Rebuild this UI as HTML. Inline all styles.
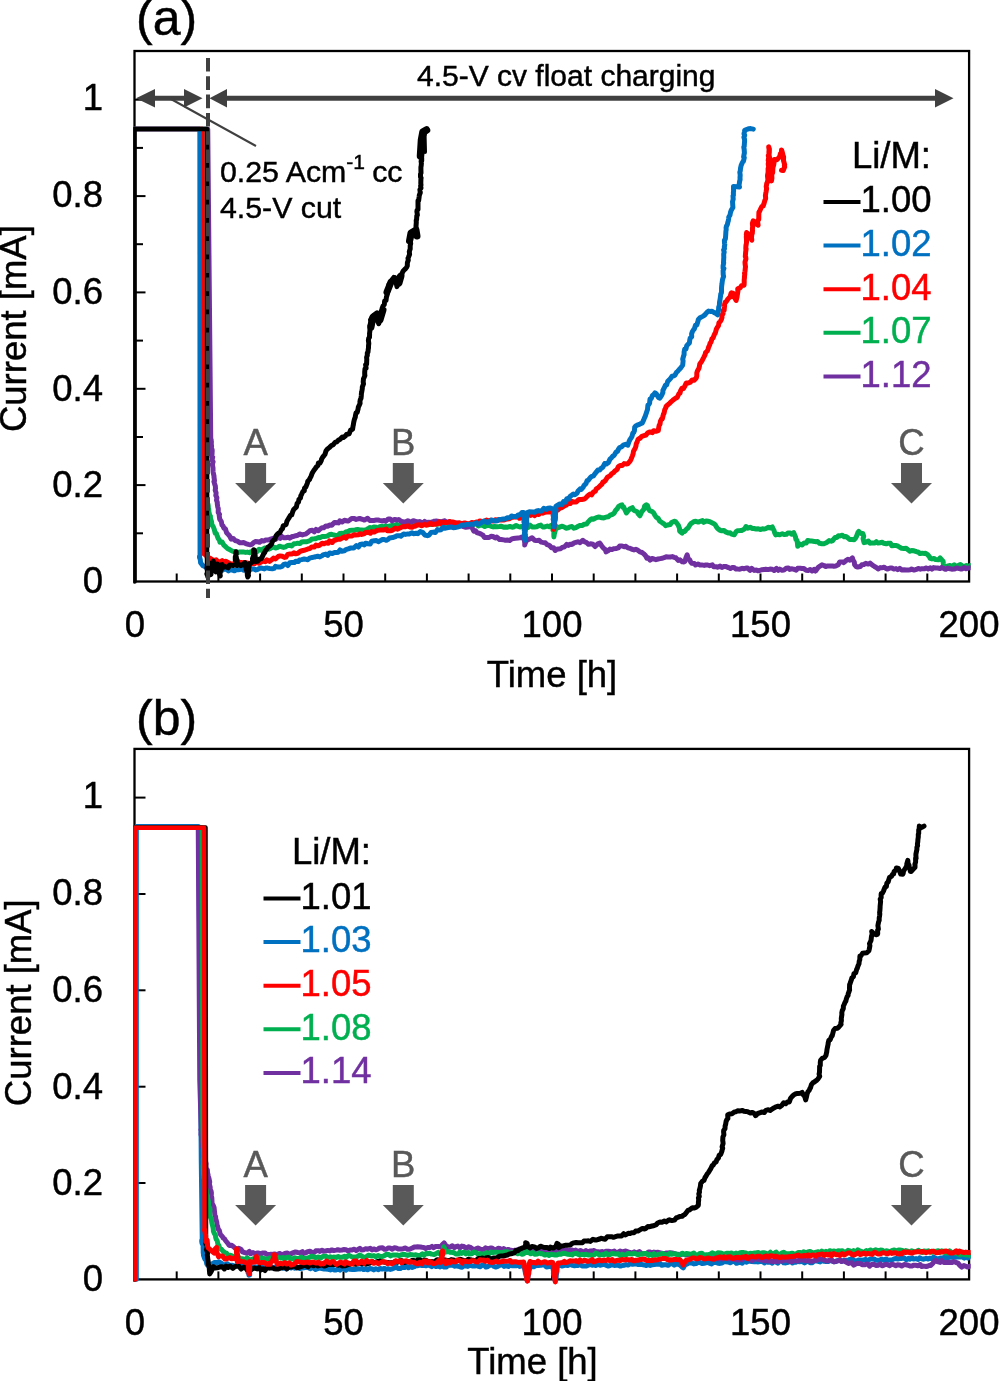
<!DOCTYPE html>
<html><head><meta charset="utf-8"><style>html,body{margin:0;padding:0;background:#fff;overflow:hidden}svg{display:block;will-change:transform}</style></head>
<body><svg width="1000" height="1381" viewBox="0 0 1000 1381">
<defs><clipPath id="clip"><rect x="133.2" y="0" width="837.5" height="1381"/></clipPath></defs>
<rect width="1000" height="1381" fill="#fff"/>
<line x1="176.7" y1="581.5" x2="176.7" y2="573.5" stroke="#000" stroke-width="2"/>
<line x1="218.4" y1="581.5" x2="218.4" y2="573.5" stroke="#000" stroke-width="2"/>
<line x1="260.1" y1="581.5" x2="260.1" y2="573.5" stroke="#000" stroke-width="2"/>
<line x1="301.8" y1="581.5" x2="301.8" y2="573.5" stroke="#000" stroke-width="2"/>
<line x1="343.5" y1="581.5" x2="343.5" y2="573.5" stroke="#000" stroke-width="2"/>
<line x1="385.2" y1="581.5" x2="385.2" y2="573.5" stroke="#000" stroke-width="2"/>
<line x1="426.9" y1="581.5" x2="426.9" y2="573.5" stroke="#000" stroke-width="2"/>
<line x1="468.6" y1="581.5" x2="468.6" y2="573.5" stroke="#000" stroke-width="2"/>
<line x1="510.3" y1="581.5" x2="510.3" y2="573.5" stroke="#000" stroke-width="2"/>
<line x1="552.0" y1="581.5" x2="552.0" y2="573.5" stroke="#000" stroke-width="2"/>
<line x1="593.7" y1="581.5" x2="593.7" y2="573.5" stroke="#000" stroke-width="2"/>
<line x1="635.4" y1="581.5" x2="635.4" y2="573.5" stroke="#000" stroke-width="2"/>
<line x1="677.1" y1="581.5" x2="677.1" y2="573.5" stroke="#000" stroke-width="2"/>
<line x1="718.8" y1="581.5" x2="718.8" y2="573.5" stroke="#000" stroke-width="2"/>
<line x1="760.5" y1="581.5" x2="760.5" y2="573.5" stroke="#000" stroke-width="2"/>
<line x1="802.2" y1="581.5" x2="802.2" y2="573.5" stroke="#000" stroke-width="2"/>
<line x1="843.9" y1="581.5" x2="843.9" y2="573.5" stroke="#000" stroke-width="2"/>
<line x1="885.6" y1="581.5" x2="885.6" y2="573.5" stroke="#000" stroke-width="2"/>
<line x1="927.3" y1="581.5" x2="927.3" y2="573.5" stroke="#000" stroke-width="2"/>
<line x1="135.0" y1="533.3" x2="143.0" y2="533.3" stroke="#000" stroke-width="2"/>
<line x1="135.0" y1="485.1" x2="145.5" y2="485.1" stroke="#000" stroke-width="2"/>
<line x1="135.0" y1="437.0" x2="143.0" y2="437.0" stroke="#000" stroke-width="2"/>
<line x1="135.0" y1="388.8" x2="145.5" y2="388.8" stroke="#000" stroke-width="2"/>
<line x1="135.0" y1="340.6" x2="143.0" y2="340.6" stroke="#000" stroke-width="2"/>
<line x1="135.0" y1="292.4" x2="145.5" y2="292.4" stroke="#000" stroke-width="2"/>
<line x1="135.0" y1="244.2" x2="143.0" y2="244.2" stroke="#000" stroke-width="2"/>
<line x1="135.0" y1="196.1" x2="145.5" y2="196.1" stroke="#000" stroke-width="2"/>
<line x1="135.0" y1="147.9" x2="143.0" y2="147.9" stroke="#000" stroke-width="2"/>
<line x1="135.0" y1="99.7" x2="145.5" y2="99.7" stroke="#000" stroke-width="2"/>
<rect x="134.5" y="51.0" width="834.6" height="530.5" fill="none" stroke="#000" stroke-width="2.3"/>
<text x="103" y="593.0" text-anchor="end" font-size="36.5" font-family="Liberation Sans, sans-serif" stroke="#000" stroke-width="0.45">0</text>
<text x="103" y="496.6" text-anchor="end" font-size="36.5" font-family="Liberation Sans, sans-serif" stroke="#000" stroke-width="0.45">0.2</text>
<text x="103" y="400.8" text-anchor="end" font-size="36.5" font-family="Liberation Sans, sans-serif" stroke="#000" stroke-width="0.45">0.4</text>
<text x="103" y="304.4" text-anchor="end" font-size="36.5" font-family="Liberation Sans, sans-serif" stroke="#000" stroke-width="0.45">0.6</text>
<text x="103" y="207.1" text-anchor="end" font-size="36.5" font-family="Liberation Sans, sans-serif" stroke="#000" stroke-width="0.45">0.8</text>
<text x="103" y="110.2" text-anchor="end" font-size="36.5" font-family="Liberation Sans, sans-serif" stroke="#000" stroke-width="0.45">1</text>
<text x="135.0" y="636.5" text-anchor="middle" font-size="36.5" font-family="Liberation Sans, sans-serif" stroke="#000" stroke-width="0.45">0</text>
<text x="343.5" y="636.5" text-anchor="middle" font-size="36.5" font-family="Liberation Sans, sans-serif" stroke="#000" stroke-width="0.45">50</text>
<text x="552.0" y="636.5" text-anchor="middle" font-size="36.5" font-family="Liberation Sans, sans-serif" stroke="#000" stroke-width="0.45">100</text>
<text x="760.5" y="636.5" text-anchor="middle" font-size="36.5" font-family="Liberation Sans, sans-serif" stroke="#000" stroke-width="0.45">150</text>
<text x="969.0" y="636.5" text-anchor="middle" font-size="36.5" font-family="Liberation Sans, sans-serif" stroke="#000" stroke-width="0.45">200</text>
<text x="552" y="687.4" text-anchor="middle" font-size="36.5" font-family="Liberation Sans, sans-serif" stroke="#000" stroke-width="0.45">Time [h]</text>
<text transform="translate(26,328.6) rotate(-90)" text-anchor="middle" font-size="36.5" font-family="Liberation Sans, sans-serif" stroke="#000" stroke-width="0.45">Current [mA]</text>
<text x="136" y="34.5" font-size="50" font-family="Liberation Sans, sans-serif" stroke="#000" stroke-width="0.45">(a)</text>
<line x1="150" y1="98.3" x2="190" y2="98.3" stroke="#404040" stroke-width="5"/>
<polygon points="136,98.3 155,89 155,107.6" fill="#404040"/>
<polygon points="202.5,98.3 184,89 184,107.6" fill="#404040"/>
<line x1="220" y1="98.3" x2="940" y2="98.3" stroke="#404040" stroke-width="5"/>
<polygon points="209.5,98.3 227,89 227,107.6" fill="#404040"/>
<polygon points="953.5,98.3 935,89 935,107.6" fill="#404040"/>
<line x1="170" y1="98.5" x2="256" y2="146" stroke="#404040" stroke-width="2"/>
<text x="417" y="85.7" font-size="30" font-family="Liberation Sans, sans-serif" stroke="#000" stroke-width="0.45">4.5-V cv float charging</text>
<text x="220" y="181.8" font-size="30.3" font-family="Liberation Sans, sans-serif" stroke="#000" stroke-width="0.45">0.25 Acm<tspan font-size="21" dy="-12.5">-1</tspan><tspan dy="12.5" dx="-1.2"> cc</tspan></text>
<text x="220" y="218" font-size="30.3" font-family="Liberation Sans, sans-serif" stroke="#000" stroke-width="0.45">4.5-V cut</text>
<polygon points="245.1,462.90000000000003 266.1,462.90000000000003 266.1,483.1 276.1,483.1 255.6,503.6 235.1,483.1 245.1,483.1" fill="#595959"/>
<text x="255.6" y="454.8" text-anchor="middle" font-size="36.5" fill="#595959" stroke="#595959" stroke-width="0.45" font-family="Liberation Sans, sans-serif">A</text>
<polygon points="392.8,462.90000000000003 413.8,462.90000000000003 413.8,483.1 423.8,483.1 403.3,503.6 382.8,483.1 392.8,483.1" fill="#595959"/>
<text x="403.3" y="454.8" text-anchor="middle" font-size="36.5" fill="#595959" stroke="#595959" stroke-width="0.45" font-family="Liberation Sans, sans-serif">B</text>
<polygon points="901.0,462.90000000000003 922.0,462.90000000000003 922.0,483.1 932.0,483.1 911.5,503.6 891.0,483.1 901.0,483.1" fill="#595959"/>
<text x="911.5" y="454.8" text-anchor="middle" font-size="36.5" fill="#595959" stroke="#595959" stroke-width="0.45" font-family="Liberation Sans, sans-serif">C</text>
<polyline points="134.6,129.0 207.0,129.0 207.0,500.0" fill="none" stroke="#00B050" stroke-width="4.5" stroke-linejoin="round" stroke-linecap="round" clip-path="url(#clip)"/>
<polyline points="207.0,500.0 207.4,501.1 206.9,501.0 208.0,504.6 208.2,505.5 208.4,508.3 208.7,509.2 208.9,511.7 209.7,515.2 210.4,516.1 210.4,517.4 210.6,518.9 211.5,521.6 211.9,524.9 212.8,526.1 213.3,526.9 214.2,529.1 215.2,533.2 216.2,533.2 217.4,536.5 218.2,538.5 219.3,539.9 219.9,542.2 222.1,541.9 223.6,544.8 225.0,546.1 227.5,548.5 230.0,549.8 232.4,551.2 235.4,551.4 237.1,552.8 239.2,552.1 240.7,552.0 243.2,551.9 245.4,552.4 247.4,552.1 249.4,552.7 251.0,551.8 253.1,551.6 254.8,550.3 257.0,551.6 259.1,549.2 261.3,550.3 263.4,548.7 265.2,547.9 267.3,548.1 269.0,549.2 271.1,548.0 273.9,547.0 275.4,548.1 277.8,547.4 279.6,546.2 281.7,546.8 283.6,547.4 285.5,546.8 287.5,545.5 290.3,545.2 291.7,545.9 293.9,543.7 296.5,543.4 297.6,543.2 300.1,543.6 301.6,542.0 303.5,541.7 306.3,541.8 308.4,541.2 310.3,540.5 312.0,538.9 314.2,538.8 315.6,538.7 318.4,537.5 320.1,537.7 322.0,536.6 324.4,536.4 326.1,536.3 327.5,536.1 329.7,534.4 331.6,534.3 333.6,535.0 336.0,535.5 338.4,535.1 339.7,533.4 341.8,533.3 344.1,533.4 346.2,531.7 347.9,532.0 349.5,530.4 351.9,530.3 354.2,530.3 355.6,529.8 357.7,529.6 360.0,529.9 361.8,530.0 363.7,530.4 366.4,529.6 367.9,528.8 370.1,527.4 371.9,528.3 373.7,526.9 376.3,527.3 378.0,528.3 380.1,526.5 382.5,526.5 383.5,527.0 385.6,525.9 388.3,526.6 389.5,525.9 392.4,525.5 394.7,525.2 396.7,524.4 399.0,525.8 400.8,525.3 403.0,524.8 405.3,524.4 407.7,524.1 409.2,523.4 411.3,525.0 413.9,525.2 416.0,522.8 418.1,524.5 420.2,523.7 421.9,523.6 424.5,523.2 426.3,523.7 428.8,524.5 430.8,524.6 432.3,523.1 434.6,523.2 436.6,524.2 439.2,524.0 441.1,522.8 442.8,524.9 444.7,523.6 446.7,522.8 449.5,525.0 451.4,523.0 453.1,523.4 455.6,524.5 457.4,524.2 459.2,524.3 462.1,524.9 463.4,524.4 466.0,523.8 468.3,524.3 470.2,524.3 472.6,525.3 474.2,523.9 476.2,523.8 478.4,526.0 480.1,525.3 482.5,525.1 484.8,526.6 486.9,525.6 489.2,525.4 491.1,526.3 493.2,526.9 494.7,526.5 497.0,526.7 499.6,526.6 500.8,526.2 503.5,527.2 505.6,527.0 507.0,527.3 509.8,526.5 512.1,527.2 513.4,527.0 516.1,525.5 518.2,526.5 519.7,527.0 521.7,526.5 524.1,525.7 526.3,526.2 528.1,527.4 530.0,525.1 532.5,527.1 534.7,526.9 536.7,526.7 538.6,525.7 540.8,525.1 542.5,526.9 544.7,526.9 547.3,526.0 549.2,526.8 551.3,525.2 552.7,525.7 553.2,527.5 552.9,530.1 554.0,531.7 553.8,533.7 553.9,536.9 554.3,534.1 555.0,531.6 555.9,528.2 556.3,526.5 558.1,527.8 560.1,526.9 562.3,526.2 564.1,527.0 566.0,528.2 568.3,527.7 569.8,526.9 572.0,526.6 574.0,528.2 575.9,527.6 578.2,526.3 580.2,525.4 582.5,525.4 584.3,524.2 586.6,524.1 588.1,521.9 590.4,519.6 591.6,518.8 593.7,519.2 595.9,517.9 598.3,517.0 600.3,517.3 601.9,517.8 603.8,517.9 606.4,517.0 608.2,516.8 610.2,515.1 612.4,514.3 614.2,513.1 615.4,510.7 617.4,508.5 618.7,506.4 620.8,505.2 622.0,504.9 622.7,507.1 623.6,506.9 624.9,509.7 626.4,512.9 628.3,510.5 630.0,508.7 632.3,507.7 633.4,509.9 634.9,510.8 637.2,511.8 638.1,513.7 639.8,515.8 640.8,513.8 641.8,511.7 643.1,510.1 643.9,509.3 644.6,506.0 646.3,504.8 647.6,505.8 648.7,509.2 649.8,510.6 651.7,511.3 653.7,512.9 654.8,515.1 656.2,517.2 658.1,518.2 659.5,520.9 661.5,522.3 662.5,523.0 664.0,523.9 665.6,525.7 667.6,525.0 670.2,524.5 671.6,522.5 674.3,521.3 675.6,521.6 676.7,523.2 678.2,525.0 679.5,528.4 679.6,531.0 680.8,532.0 682.1,533.1 683.5,531.2 684.7,531.5 686.8,528.8 688.2,527.9 689.3,525.8 690.8,523.7 692.4,522.7 694.0,521.5 695.9,521.3 698.3,522.1 700.2,521.3 702.4,520.6 703.6,522.3 706.1,520.9 707.9,521.3 709.9,521.7 711.9,522.7 713.9,523.7 715.2,524.7 717.1,528.0 718.1,528.9 720.2,530.4 721.5,530.7 723.7,530.4 726.1,532.1 728.1,532.9 730.2,532.8 731.6,534.1 734.3,534.8 736.1,531.7 737.7,530.7 740.1,530.6 741.7,530.4 744.5,529.1 746.0,526.5 747.7,528.2 750.2,527.3 752.4,528.5 753.9,528.5 756.2,529.0 758.2,528.7 760.2,529.5 762.4,528.8 763.8,529.1 765.9,528.6 768.4,527.3 770.3,528.0 772.3,526.9 773.0,528.6 774.0,530.4 774.7,532.9 775.7,534.9 778.1,534.3 779.7,534.8 782.3,533.7 784.1,534.5 786.4,534.3 787.8,533.0 790.3,533.0 791.5,534.1 793.7,532.6 794.5,534.6 795.5,537.0 795.9,539.3 797.0,540.5 797.4,542.9 797.7,546.3 799.9,544.0 802.1,545.0 804.1,543.0 806.3,543.0 807.7,540.5 810.4,541.0 811.7,541.1 814.4,541.4 816.2,541.8 817.7,541.6 819.6,543.3 821.7,543.7 823.9,543.8 826.3,542.8 827.6,541.9 829.1,540.6 831.2,541.2 832.6,540.6 835.0,537.5 836.8,537.5 838.4,535.8 840.2,535.9 842.3,535.2 844.2,536.8 845.7,536.4 848.0,537.9 849.7,539.6 852.0,539.6 854.1,539.7 855.6,538.1 856.6,536.1 857.9,532.5 858.8,531.4 861.0,533.6 862.9,533.6 863.7,536.3 863.1,538.7 863.6,541.1 864.1,542.7 866.4,542.1 868.4,541.1 869.8,543.2 871.5,542.9 874.5,543.1 876.3,541.7 878.0,543.1 879.9,542.8 882.3,542.2 883.6,543.2 886.4,543.8 888.2,543.2 890.4,543.3 891.8,545.8 894.4,545.6 896.4,545.6 898.1,546.2 899.7,547.3 901.5,548.2 904.0,548.4 906.1,548.3 908.0,549.8 909.9,551.2 911.6,550.5 914.0,550.8 916.5,551.7 918.0,551.9 919.9,553.5 922.3,553.2 923.7,553.4 925.6,553.2 927.5,554.5 929.5,556.8 930.1,558.4 931.9,558.9 933.9,558.4 935.7,559.6 938.4,559.8 940.1,557.9 941.8,559.8 943.1,561.4 943.4,564.1 943.8,566.5 945.9,566.6 948.0,566.0 950.1,565.5 952.0,566.3 954.2,564.8 956.0,566.1 958.2,565.6 960.4,564.5 962.1,565.8 964.0,566.7 966.4,565.5 968.1,566.5 970.2,565.7" fill="none" stroke="#00B050" stroke-width="5.0" stroke-linejoin="round" stroke-linecap="round" clip-path="url(#clip)"/>
<polyline points="134.6,129.0 208.0,129.0 211.0,440.0" fill="none" stroke="#7030A0" stroke-width="4.5" stroke-linejoin="round" stroke-linecap="round" clip-path="url(#clip)"/>
<polyline points="211.0,440.0 210.6,440.8 211.4,441.4 211.3,443.9 211.6,446.7 211.2,446.9 212.1,449.8 212.2,450.8 212.0,454.5 211.9,457.1 212.7,456.9 212.0,460.1 213.1,461.7 212.5,463.8 212.5,465.3 213.0,468.0 213.0,469.4 213.1,471.9 213.3,472.9 214.0,476.1 214.0,477.2 214.5,480.9 213.9,481.6 214.8,484.5 215.3,485.8 215.5,488.4 215.2,490.2 216.1,492.8 216.0,494.2 215.8,495.4 216.9,497.8 216.5,500.1 217.3,502.4 217.3,503.9 217.7,506.7 218.0,507.7 218.3,508.9 218.2,512.5 219.5,514.2 219.2,515.2 219.7,519.2 220.3,520.1 221.3,521.4 222.0,525.1 223.1,525.9 223.8,528.1 225.4,528.8 226.5,532.5 227.9,534.1 229.0,535.3 230.1,536.8 231.2,539.1 233.4,538.6 235.0,540.5 237.4,541.1 240.0,542.8 242.1,542.7 243.5,542.5 245.7,543.6 248.3,544.4 250.3,544.8 251.8,544.4 254.2,542.2 255.5,541.6 258.2,541.8 259.6,542.3 261.9,540.5 263.7,541.1 265.7,540.0 268.2,539.9 269.8,539.4 271.5,538.8 273.9,538.0 275.6,539.3 278.0,537.2 280.1,538.3 281.5,536.2 283.7,537.8 285.7,537.7 288.2,537.2 289.7,538.1 292.3,536.5 293.7,536.4 295.9,535.7 297.8,535.3 299.6,534.0 302.4,534.9 303.8,534.4 305.8,534.1 308.2,532.3 309.8,530.8 312.4,530.3 314.3,531.9 316.1,529.4 318.4,530.7 320.2,529.0 321.9,527.8 323.7,527.8 325.9,525.9 327.6,526.2 329.8,525.0 331.8,525.2 334.4,522.4 335.7,522.5 338.5,522.9 339.8,520.8 342.2,521.9 344.4,520.3 346.4,520.7 348.0,521.1 349.7,520.0 351.6,518.6 354.4,518.6 356.2,519.4 358.3,518.8 359.8,518.5 362.4,519.3 364.4,520.1 365.6,519.4 367.6,518.3 369.6,520.4 372.3,520.6 373.8,520.4 376.3,520.1 378.1,520.0 379.6,520.4 382.4,521.0 384.4,520.5 385.8,521.1 388.3,519.0 390.2,519.0 392.1,520.9 394.6,519.4 397.6,520.0 398.8,519.6 401.0,521.2 403.0,521.8 405.3,522.2 407.9,520.8 409.3,521.4 411.3,522.0 413.3,520.7 416.3,521.6 418.0,522.2 419.8,521.5 422.5,523.5 424.6,521.4 426.0,522.5 428.8,522.2 430.6,522.4 432.3,522.0 434.4,521.2 436.3,521.1 439.2,521.4 441.0,521.8 443.3,521.1 444.8,520.8 446.9,522.6 449.5,521.8 451.1,522.9 453.4,523.6 455.2,522.7 457.3,523.3 459.6,523.9 461.3,525.7 463.5,526.6 465.8,527.3 467.6,527.0 470.3,526.5 472.2,528.0 473.8,531.2 475.7,530.8 476.8,532.5 479.3,533.3 481.1,534.1 482.9,535.1 484.4,537.4 487.0,537.6 489.1,537.5 491.0,536.3 492.9,536.5 495.2,537.9 496.8,537.1 499.6,539.5 501.3,539.5 503.7,539.9 505.3,540.2 507.3,540.1 509.7,540.4 511.7,538.9 513.6,538.5 515.5,538.2 518.2,537.9 519.9,537.8 521.7,537.1 524.0,539.0 524.5,540.9 524.8,543.6 524.7,545.0 525.6,542.3 526.2,541.1 527.4,540.0 529.5,539.2 532.1,537.7 534.6,540.3 536.3,540.6 539.1,540.2 541.0,542.1 542.8,542.4 545.2,542.7 547.0,544.7 548.8,545.2 549.7,545.7 551.4,547.7 553.6,547.7 555.2,550.5 556.7,549.3 558.4,549.0 560.2,548.8 562.8,547.2 564.2,547.1 566.7,544.4 568.4,545.4 570.2,544.2 572.0,544.4 574.6,542.6 576.5,542.3 578.0,541.7 580.1,542.6 582.9,540.3 584.7,541.9 586.3,542.4 588.5,544.3 590.4,543.8 592.9,544.3 595.1,546.5 597.8,543.9 599.8,543.1 601.0,544.8 602.2,546.6 603.9,548.5 605.3,549.5 606.0,551.9 608.3,550.5 609.9,549.1 611.6,549.6 613.6,548.7 616.0,548.5 618.3,547.9 619.7,546.0 622.1,546.0 624.0,546.7 626.0,546.3 627.9,547.9 629.8,548.3 632.3,549.4 634.0,549.9 635.9,549.3 637.5,550.0 640.1,551.9 642.0,552.5 643.8,553.9 645.3,555.3 646.9,558.2 648.1,557.7 650.1,560.1 651.9,558.4 653.9,559.0 655.9,559.7 658.1,559.0 660.4,558.6 662.0,558.3 664.1,557.7 666.1,556.8 668.1,557.0 670.4,557.0 672.3,556.6 674.3,557.4 675.9,557.8 678.2,560.4 680.0,559.8 682.3,561.8 684.0,561.9 685.0,561.3 685.9,558.0 687.2,554.8 688.3,559.1 689.7,559.8 690.9,562.3 691.7,563.3 694.4,563.6 695.6,565.0 698.0,564.0 700.0,565.0 701.7,564.9 704.2,565.4 705.8,565.0 707.7,565.0 709.7,565.7 712.4,564.9 713.7,566.7 716.2,566.7 717.5,567.2 720.1,566.1 721.9,567.4 724.3,566.4 726.1,566.6 728.5,567.6 730.4,568.5 732.1,567.6 734.0,567.4 735.7,568.9 737.9,569.1 739.8,569.2 742.2,568.3 743.6,568.7 746.0,568.1 747.7,568.1 750.1,570.3 751.7,568.3 754.2,570.4 756.4,570.0 757.8,570.7 759.6,570.5 761.6,569.7 764.0,569.6 765.7,569.2 768.3,569.6 770.1,569.0 772.2,569.2 774.1,570.5 776.5,568.4 778.3,570.3 779.8,569.1 782.1,570.3 783.9,570.1 786.2,568.3 788.4,567.9 789.7,569.4 791.6,568.8 793.6,569.1 796.3,570.2 797.6,568.3 800.3,568.3 801.8,568.5 803.6,568.4 806.1,570.2 808.2,570.5 810.2,569.5 812.1,571.0 814.1,569.3 815.6,571.0 818.1,567.6 820.1,566.1 822.0,564.8 823.9,565.5 825.7,566.5 827.9,565.9 830.2,566.0 832.2,565.9 833.8,566.3 835.7,566.0 838.3,564.8 839.6,562.0 842.3,561.9 843.9,562.6 845.6,560.9 847.9,559.3 849.9,560.1 852.4,557.9 853.0,560.0 854.3,562.0 854.6,564.7 856.2,566.6 857.6,567.0 860.3,566.5 861.8,564.8 863.8,564.5 865.8,563.3 868.3,564.1 870.1,563.1 872.1,564.9 874.5,566.5 876.3,567.5 878.0,569.0 880.3,567.6 881.7,567.8 884.0,567.2 885.9,568.4 887.6,569.1 890.1,567.9 891.8,568.1 893.8,569.1 896.0,568.6 897.7,569.6 899.8,568.3 901.6,569.9 904.0,569.8 906.4,570.0 908.3,570.0 910.4,569.7 911.6,569.0 914.1,570.1 916.3,569.4 918.2,568.5 920.4,569.2 921.9,568.7 924.5,568.8 925.7,567.9 928.2,568.9 930.4,567.9 931.9,569.2 933.6,567.6 936.0,568.0 937.6,568.0 940.1,568.6 941.6,567.4 944.3,568.8 945.7,569.3 947.5,568.1 950.3,568.8 951.8,569.2 954.1,569.1 956.4,568.1 958.2,568.3 960.4,568.9 962.2,568.9 964.5,567.5 965.7,568.7 968.3,568.1 970.0,567.8" fill="none" stroke="#7030A0" stroke-width="5.0" stroke-linejoin="round" stroke-linecap="round" clip-path="url(#clip)"/>
<polyline points="134.6,129.0 202.5,129.0 202.8,552.0" fill="none" stroke="#FF0000" stroke-width="4.5" stroke-linejoin="round" stroke-linecap="round" clip-path="url(#clip)"/>
<polyline points="202.8,552.0 202.5,552.1 204.3,554.2 206.1,555.0 207.5,558.1 209.8,558.0 212.5,559.9 214.3,560.3 216.1,559.8 218.1,561.9 220.0,561.9 222.2,560.6 224.2,562.2 225.8,561.2 228.4,562.6 230.2,563.9 232.2,564.0 233.9,563.7 235.9,564.0 238.4,562.0 239.7,562.3 242.4,562.8 244.1,562.5 246.0,562.7 247.9,563.2 250.1,564.0 252.3,563.8 254.6,563.7 256.6,561.5 258.9,563.3 261.1,562.1 263.1,561.0 265.3,561.7 266.9,559.8 269.6,561.4 271.0,560.3 273.5,558.1 275.5,558.9 278.2,556.5 280.1,555.9 282.2,556.2 284.4,557.4 286.0,557.0 287.8,554.4 290.1,553.9 291.7,554.1 294.1,552.8 295.6,553.8 297.8,553.3 300.4,551.2 302.0,550.8 304.1,550.3 306.1,549.7 308.4,548.7 309.9,548.5 311.7,546.9 314.5,546.9 316.0,545.0 317.9,545.8 319.5,545.3 322.1,543.3 324.1,543.7 326.2,542.8 328.2,543.2 329.5,540.9 332.2,542.5 333.8,540.7 336.1,539.8 337.9,539.2 339.9,539.2 341.8,538.2 344.3,536.9 346.1,538.1 347.8,536.3 350.3,535.9 351.7,535.9 354.2,534.7 355.8,534.9 358.3,534.8 360.3,533.7 361.8,534.5 364.4,533.6 365.7,532.4 368.0,532.2 370.3,533.3 371.7,531.6 374.3,532.0 376.3,530.9 377.6,530.4 380.3,530.0 381.9,530.1 383.9,529.9 386.4,529.1 387.5,530.8 390.4,530.7 392.4,530.2 395.4,528.1 397.3,529.2 399.3,528.2 401.0,527.4 403.1,526.5 405.5,526.7 407.8,525.8 410.0,527.0 412.1,527.2 414.1,526.1 415.4,526.2 417.6,524.8 420.2,525.1 422.0,525.8 424.3,524.2 426.0,525.2 428.3,524.8 430.3,523.2 432.5,524.5 434.3,524.2 437.1,524.1 439.1,521.9 441.0,523.8 442.5,522.2 444.8,522.6 447.0,522.5 449.4,521.5 450.8,521.9 453.0,521.9 455.9,523.9 457.1,523.1 459.4,522.8 461.5,523.7 463.8,523.1 465.5,523.1 467.6,523.8 470.2,523.5 471.6,522.5 473.9,523.0 476.3,522.0 478.3,522.0 479.9,520.9 482.1,521.6 484.2,521.4 486.4,520.1 488.6,521.0 490.3,520.2 492.8,521.1 495.4,519.7 497.5,520.5 498.9,519.5 500.9,520.1 503.5,520.1 505.7,519.4 507.7,518.9 509.2,518.8 511.2,517.5 514.0,517.0 515.4,517.0 518.3,516.9 519.5,518.3 521.7,517.9 524.3,517.5 526.7,516.4 528.6,514.7 530.7,515.4 532.7,514.1 534.8,515.6 536.2,513.7 538.8,514.5 540.6,512.6 542.7,513.2 545.2,512.2 546.9,512.1 548.9,512.1 550.6,512.1 553.5,511.8 553.3,513.2 553.4,516.6 553.5,518.0 553.4,520.3 553.9,521.2 553.3,524.6 554.2,526.0 553.8,528.5 553.7,529.4 553.9,528.2 554.2,525.4 554.8,525.1 554.6,522.5 554.9,520.8 555.3,517.4 555.1,514.9 555.6,513.7 555.5,511.7 555.8,510.7 557.7,510.1 560.0,508.1 562.0,507.6 564.3,505.9 566.0,505.2 568.3,503.3 570.2,503.6 572.0,501.4 573.7,502.0 576.2,502.1 578.3,499.9 579.7,499.4 581.7,499.5 584.3,499.0 585.8,497.9 587.8,495.8 590.2,494.0 591.6,494.8 593.4,492.1 595.3,491.2 596.3,488.8 598.3,487.6 599.7,486.2 601.9,484.2 602.9,481.9 604.1,481.7 605.3,480.6 607.5,477.2 609.0,476.3 610.3,475.6 611.5,473.9 613.5,472.7 614.8,471.1 617.1,469.4 618.4,466.6 620.0,465.6 622.2,465.6 624.1,463.6 626.1,463.9 627.7,463.7 630.1,461.1 631.1,459.1 631.3,458.5 632.3,456.1 633.1,453.9 633.5,451.2 633.9,450.5 635.3,448.1 636.0,445.7 636.3,443.7 637.6,440.9 638.0,439.4 640.3,438.0 641.8,436.4 644.0,435.7 645.9,435.1 647.6,433.0 649.6,431.9 652.3,432.7 653.7,430.7 655.9,431.3 658.3,430.6 658.8,427.2 659.2,425.3 660.0,424.2 660.4,421.4 661.6,418.9 662.3,418.9 663.1,415.7 663.4,414.2 664.1,413.1 664.8,409.5 665.7,408.0 666.1,406.5 667.2,405.3 669.5,403.3 671.0,401.9 672.4,400.7 673.9,399.3 676.1,397.9 677.3,397.4 678.9,393.6 680.0,393.0 680.6,390.7 682.0,388.2 683.5,388.5 684.6,386.6 686.2,383.1 688.3,383.0 690.4,382.1 692.2,380.0 694.3,380.2 696.3,377.8 696.8,376.0 696.8,372.9 697.3,371.3 698.0,370.0 699.0,368.1 699.4,366.4 699.8,363.9 701.2,362.0 701.7,361.5 703.2,358.4 703.9,357.1 705.1,354.6 705.5,352.8 707.3,350.9 708.0,349.3 708.6,347.2 709.6,345.2 710.1,343.1 711.1,342.0 711.9,338.9 713.1,337.8 714.2,334.9 714.8,333.7 715.3,333.1 716.4,329.0 717.5,327.1 718.5,325.6 718.9,322.8 720.3,321.4 721.3,319.8 722.0,317.3 721.9,315.2 723.0,313.9 723.2,310.6 724.1,310.6 724.5,306.2 724.6,304.3 725.3,302.1 726.2,301.8 728.0,298.9 729.1,297.8 730.0,297.1 731.1,293.2 731.5,292.8 733.3,293.4 733.8,297.1 734.8,297.9 736.1,300.5 737.0,297.2 737.1,296.4 737.5,293.9 737.9,291.3 737.7,288.9 740.1,287.9 741.6,285.6 744.1,285.2 744.2,282.6 744.2,279.9 744.5,277.5 744.4,277.2 744.8,273.6 744.5,273.3 745.0,271.3 745.3,268.2 745.5,266.8 745.1,263.9 745.0,261.9 745.9,259.1 745.7,257.1 745.3,256.4 745.6,252.9 745.6,252.3 746.1,248.8 745.8,249.0 745.9,246.0 746.2,244.5 746.5,242.5 746.5,239.1 746.3,236.8 747.0,234.8 746.3,234.8 746.6,232.6 747.7,233.5 748.9,236.3 750.5,237.7 751.8,240.2 751.5,237.5 751.8,234.3 752.3,233.4 752.5,230.5 752.4,229.0 752.7,226.1 752.5,225.0 752.4,223.2 753.2,220.8 754.7,222.8 755.8,223.7 758.1,225.2 757.7,222.4 757.8,220.5 758.7,219.6 758.8,218.1 758.8,215.8 758.9,212.4 759.5,211.4 760.8,208.5 761.8,206.5 763.2,205.9 763.8,204.2 764.9,200.3 765.6,198.8 765.6,197.6 765.4,195.8 765.8,193.0 766.1,191.7 766.6,188.6 766.2,186.6 766.7,184.0 766.7,183.6 767.4,182.1 767.9,179.8 767.5,176.1 767.6,174.8 768.0,172.9 768.1,171.6 768.1,168.6 768.7,167.4 768.2,164.0 768.8,161.3 768.2,160.5 768.7,157.6 768.3,155.6 769.0,154.1 769.3,152.8 769.4,149.0 768.7,146.8 769.1,149.6 768.9,152.1 769.0,153.5 769.3,156.7 769.6,157.4 769.4,159.8 770.1,162.4 770.5,164.7 770.1,165.1 770.7,168.7 770.6,170.8 770.8,171.5 770.6,172.8 771.1,177.0 771.5,177.9 771.5,181.0 771.9,178.1 771.8,175.8 771.9,172.8 772.7,172.7 772.8,169.1 773.0,167.1 773.7,165.0 774.1,162.1 773.8,160.9 774.2,159.5 776.9,159.7 779.0,157.6 779.7,156.5 780.4,153.6 781.4,152.8 781.5,149.9 782.1,151.6 782.9,154.7 783.0,154.9 783.6,156.9 783.5,160.5 783.7,161.2 784.7,164.8 784.4,165.5 784.7,166.9 783.2,170.5 781.5,170.2" fill="none" stroke="#FF0000" stroke-width="5.0" stroke-linejoin="round" stroke-linecap="round" clip-path="url(#clip)"/>
<polyline points="134.6,129.0 199.6,129.0 199.8,558.0" fill="none" stroke="#0070C0" stroke-width="4.5" stroke-linejoin="round" stroke-linecap="round" clip-path="url(#clip)"/>
<polyline points="199.8,558.0 199.5,557.0 200.3,559.7 200.6,562.8 202.9,565.7 204.3,566.3 206.0,567.5 207.7,568.1 209.7,571.0 212.3,570.7 214.3,569.3 215.8,570.3 218.2,570.9 220.4,569.0 222.1,570.4 224.0,569.2 226.0,569.0 228.4,570.9 230.0,569.5 232.4,570.2 234.4,570.8 236.0,569.8 238.1,569.8 239.7,569.5 242.3,568.9 243.6,570.3 245.8,570.1 248.0,569.6 250.5,569.3 251.9,569.1 254.1,569.1 255.9,570.0 257.8,569.3 260.4,568.0 261.6,568.1 264.3,568.9 265.7,568.0 267.7,568.1 269.6,568.5 272.4,568.7 274.2,568.3 275.5,566.3 278.4,567.1 279.9,567.1 282.1,566.4 283.8,564.5 285.9,563.9 287.9,565.5 289.8,562.8 291.6,562.6 294.3,562.5 295.8,561.2 298.5,561.4 299.7,559.9 301.6,559.6 304.2,559.0 305.6,559.2 307.8,559.8 309.6,558.1 312.3,557.4 314.5,557.1 315.8,556.6 317.6,556.2 319.8,556.9 322.3,555.6 323.6,554.6 325.8,554.1 327.7,555.3 329.7,552.9 332.4,553.6 334.5,552.6 336.4,552.6 338.3,552.2 340.0,550.0 341.7,551.3 344.4,550.8 345.8,549.6 348.3,548.9 350.3,548.1 352.1,547.9 353.8,548.0 356.4,545.5 358.5,547.1 360.2,544.4 362.4,544.1 364.4,544.9 365.6,543.2 368.1,543.7 370.2,544.0 371.7,541.3 374.4,540.8 376.4,540.6 378.3,541.7 380.4,540.6 382.4,539.5 384.2,539.5 386.4,540.3 388.0,539.4 389.5,537.9 392.6,537.6 395.4,536.6 396.7,535.7 399.4,535.7 400.8,536.2 403.6,534.0 405.5,534.4 407.8,533.9 409.3,534.1 412.1,532.8 413.4,533.7 416.2,533.2 417.9,533.7 420.3,531.5 422.9,532.6 424.8,535.0 427.4,535.7 429.1,535.1 431.1,532.5 433.3,532.1 435.3,532.6 437.4,529.6 439.0,530.1 441.1,529.7 443.0,527.3 444.8,528.3 446.9,527.9 449.6,527.4 451.4,527.1 453.2,527.7 455.4,527.4 457.3,527.1 459.9,526.3 461.6,525.0 464.0,525.3 466.0,524.5 467.5,524.4 470.3,524.2 472.5,524.3 474.2,523.8 476.4,522.8 478.2,524.4 480.1,523.3 482.3,522.0 484.1,520.9 487.1,522.5 489.0,522.0 491.3,520.0 493.0,520.4 495.1,521.1 497.3,520.7 498.8,519.5 501.4,519.3 503.4,519.1 505.2,518.9 507.4,517.7 510.0,517.6 511.5,516.0 513.6,516.6 516.3,516.8 517.8,515.2 520.3,514.5 521.9,512.6 523.7,512.6 524.3,514.9 524.0,517.8 524.3,518.0 523.9,522.1 524.9,524.1 524.6,524.7 524.1,526.7 524.3,530.5 525.1,532.2 524.4,533.0 524.7,536.8 524.6,538.6 525.2,540.1 525.6,537.3 525.3,534.9 525.1,532.5 525.4,530.6 525.3,530.6 525.7,528.2 526.3,525.7 526.4,524.2 526.7,521.5 526.6,519.3 526.9,516.9 526.8,513.8 527.3,512.5 529.3,511.7 532.9,511.9 534.3,512.4 536.7,511.0 538.2,510.6 539.8,511.2 541.8,510.8 543.8,508.3 546.4,509.4 547.8,508.2 550.0,508.0 552.7,508.8 553.6,510.7 553.6,513.4 553.2,515.3 553.8,516.9 553.2,519.1 554.1,520.5 553.9,524.1 554.0,524.2 554.1,526.9 554.5,525.7 554.2,524.1 554.7,520.7 555.1,519.8 555.4,517.7 555.4,515.1 555.5,512.5 556.1,509.9 555.4,508.7 556.0,506.1 558.1,504.9 559.7,504.0 561.9,504.7 563.5,501.6 565.5,502.0 566.7,498.8 568.7,499.0 570.1,496.3 571.9,495.1 573.3,494.1 574.9,494.7 576.9,493.3 578.1,491.0 580.1,488.9 581.3,489.4 583.1,487.4 584.1,485.3 586.0,483.6 587.1,480.6 588.1,480.6 590.4,477.5 591.9,476.3 593.5,475.8 594.8,473.8 596.4,472.0 597.9,469.9 599.8,470.0 601.3,468.1 602.9,467.2 604.7,463.5 606.4,464.0 608.5,462.4 610.0,459.1 611.1,458.3 613.0,455.9 613.5,455.9 614.6,454.6 616.1,452.0 617.7,451.2 618.3,449.5 619.7,447.5 621.5,446.9 623.7,444.8 625.6,444.3 627.8,445.2 629.0,441.7 630.2,439.2 630.4,439.1 632.0,436.4 632.9,432.9 633.7,432.5 634.4,430.8 634.7,427.3 635.7,425.9 638.0,424.8 639.9,424.1 642.3,422.9 643.6,420.2 644.3,418.3 645.3,416.1 645.9,414.3 646.3,413.1 647.4,409.8 647.5,409.6 647.9,405.2 648.5,405.0 649.6,403.2 650.0,398.9 651.1,398.8 652.4,395.6 653.6,394.7 654.9,392.9 656.3,393.9 658.6,397.6 659.9,398.1 660.6,396.9 662.0,394.6 662.9,392.5 662.9,390.5 664.1,388.2 665.5,385.0 666.6,385.1 667.7,381.4 669.0,380.2 670.6,378.4 672.1,376.2 673.3,376.0 674.9,375.2 676.7,372.1 677.6,371.4 679.2,369.5 680.9,367.7 682.0,366.1 682.7,365.1 683.0,361.9 683.1,360.8 682.7,359.2 683.8,355.3 684.1,354.8 684.1,352.1 684.8,348.9 686.0,348.9 686.7,345.9 687.8,344.5 689.4,342.9 689.8,339.8 690.2,338.1 691.7,336.8 691.6,333.8 692.3,331.8 693.7,329.5 694.3,329.1 695.5,325.3 696.8,325.0 698.1,320.8 698.3,319.5 700.0,317.8 701.3,317.1 703.6,315.9 705.2,314.5 707.1,312.2 708.6,311.1 710.0,311.4 712.1,311.2 714.0,312.5 715.7,313.4 717.6,314.9 718.0,312.3 718.6,309.4 718.7,307.1 719.4,305.3 719.5,302.5 719.9,300.2 720.1,299.3 720.4,297.0 720.8,293.9 721.4,292.9 721.5,291.5 721.5,287.9 721.7,285.8 722.0,283.7 722.2,282.0 722.5,279.7 723.2,277.4 723.6,276.5 723.2,274.5 723.1,270.7 723.9,268.5 723.1,268.4 723.1,265.9 723.7,262.7 723.5,262.5 723.7,258.7 723.8,257.8 723.7,254.2 724.2,252.1 723.6,249.8 724.5,248.8 724.3,247.0 724.8,244.5 724.5,243.2 724.4,240.4 725.4,238.8 725.5,237.6 725.7,235.0 725.9,231.4 726.2,229.6 726.1,227.7 726.5,226.1 727.3,224.7 728.0,221.6 728.3,221.0 728.6,219.0 728.8,217.0 730.0,215.1 730.5,212.4 731.3,210.1 732.9,207.5 732.8,206.2 732.6,202.6 732.5,201.8 733.2,199.2 733.0,195.9 733.4,195.4 733.4,192.2 733.6,191.1 733.5,189.0 733.5,186.5 736.9,186.7 739.5,187.1 739.0,185.1 739.3,183.7 739.6,181.4 740.1,179.5 740.0,177.7 740.2,175.0 739.8,172.2 740.3,170.7 740.5,168.4 741.2,165.3 742.1,163.2 743.1,161.3 743.4,161.3 744.3,157.7 743.6,156.9 744.3,153.3 744.4,152.9 744.2,149.5 743.8,147.0 744.2,146.5 744.4,143.3 744.6,140.9 744.5,139.2 743.9,137.2 744.7,135.2 744.0,133.8 744.4,132.0 744.7,130.3 747.1,129.3 748.9,128.7 750.7,128.6 753.3,129.1" fill="none" stroke="#0070C0" stroke-width="5.0" stroke-linejoin="round" stroke-linecap="round" clip-path="url(#clip)"/>
<polyline points="134.6,581.5 134.6,129.0 207.0,129.0 207.0,568.0" fill="none" stroke="#000" stroke-width="4.5" stroke-linejoin="round" stroke-linecap="round" clip-path="url(#clip)"/>
<polyline points="207.0,568.0 207.1,568.6 207.4,571.1 207.4,573.0 206.8,573.9 207.8,576.4 207.9,577.1 207.7,575.4 208.0,574.2 207.7,571.3 208.1,571.0 208.8,567.2 209.1,565.1 209.1,563.1 208.9,566.9 209.5,567.3 210.7,570.9 210.4,573.1 211.0,574.4 211.1,572.9 212.0,570.8 212.6,567.0 212.5,564.5 212.7,562.1 213.3,561.2 213.4,563.4 214.0,564.5 214.8,567.0 214.7,569.0 215.4,569.9 216.0,571.9 216.2,571.8 216.0,569.7 216.9,567.2 217.0,563.9 217.7,564.1 218.0,565.6 219.1,568.1 218.9,568.7 219.4,571.7 219.3,573.6 220.3,575.9 220.0,574.1 220.4,570.6 221.3,570.0 221.4,568.0 222.0,564.5 223.8,567.2 225.6,566.5 228.2,567.9 229.7,564.9 233.2,565.6 235.4,564.4 235.7,563.8 235.6,560.8 235.3,560.0 235.3,557.0 236.2,554.1 236.2,554.1 236.1,551.7 235.8,553.0 235.9,556.1 236.2,557.3 237.1,560.4 237.2,561.6 236.8,564.4 237.0,565.5 238.9,564.4 240.9,565.7 243.4,564.1 245.0,562.6 245.0,564.5 246.1,567.9 246.2,569.7 247.0,571.5 247.3,573.6 247.4,575.5 247.8,577.0 248.5,575.5 248.2,574.1 248.8,571.2 248.4,569.1 248.8,567.4 249.3,565.8 249.6,563.7 251.9,562.3 252.6,560.6 252.5,558.5 253.4,556.0 253.8,554.4 253.7,551.2 253.7,549.8 254.7,550.9 254.7,553.5 255.0,554.2 255.3,557.2 255.4,558.8 255.6,561.7 257.9,561.0 259.5,559.2 261.1,558.7 262.1,557.1 263.6,553.9 264.6,552.7 265.4,550.8 266.8,549.2 267.9,547.2 269.3,546.4 270.6,545.2 271.4,544.3 272.4,541.4 273.8,539.8 274.8,539.1 276.2,535.6 277.6,534.0 278.7,532.9 279.9,532.8 281.3,529.8 282.5,528.7 283.2,525.8 284.6,525.2 286.1,524.5 286.9,521.3 288.4,518.8 288.8,518.2 290.5,515.1 291.7,514.9 292.7,511.8 293.7,509.5 295.5,507.7 296.4,507.0 297.1,503.4 298.5,502.0 298.9,499.6 300.5,498.0 300.8,495.9 301.6,494.3 302.9,491.5 304.3,490.8 304.5,488.1 305.8,487.0 307.3,483.4 307.8,481.2 309.5,479.5 310.1,477.9 311.1,476.2 312.2,473.1 313.2,471.5 314.2,469.9 315.1,468.7 316.5,466.7 317.9,465.6 318.4,463.1 320.0,463.0 321.4,460.4 321.5,459.2 322.9,456.9 324.2,455.3 325.0,454.2 325.9,451.2 327.3,449.0 327.8,448.8 329.3,447.6 331.7,445.3 333.0,444.9 335.4,442.1 336.7,441.9 338.5,440.1 339.9,439.5 342.3,437.0 343.4,437.4 345.6,435.7 346.5,434.5 349.1,433.9 350.5,430.3 352.3,429.3 352.6,429.1 353.2,425.2 353.3,425.1 353.7,422.4 354.4,419.4 355.3,417.0 355.4,415.7 356.0,412.9 357.2,412.4 358.1,408.9 358.3,407.2 359.1,405.6 360.1,403.2 359.9,401.9 360.3,399.7 361.0,398.4 361.3,395.7 361.4,393.6 361.7,392.1 362.3,388.6 362.3,387.2 363.2,384.7 363.5,383.9 363.2,381.9 363.5,378.7 364.3,376.9 364.9,375.5 364.7,374.3 364.7,372.2 365.0,368.8 366.1,368.1 365.6,364.7 366.6,364.1 366.7,360.8 366.8,359.4 366.6,357.3 367.3,355.4 367.3,352.9 368.0,352.1 368.2,349.6 368.5,347.8 368.5,346.0 368.8,343.4 368.4,340.4 368.7,338.3 369.5,337.3 369.6,334.0 369.5,334.0 369.9,330.8 369.9,327.8 369.8,325.9 370.2,324.3 370.9,321.6 370.5,319.8 372.1,317.4 373.9,315.6 374.9,318.4 376.4,320.2 377.8,321.3 378.8,323.7 378.9,321.0 379.6,319.0 380.5,315.8 380.5,313.5 381.0,311.7 381.7,311.8 382.2,308.2 383.1,305.9 384.3,304.6 384.6,301.1 386.0,300.5 386.4,297.2 387.3,294.2 386.9,294.1 387.7,290.4 388.3,290.6 388.8,287.1 388.9,284.5 390.8,283.7 392.0,280.9 392.5,279.2 393.8,277.4 394.8,280.6 396.0,282.1 397.0,286.6 397.7,283.2 398.5,280.9 398.7,278.1 399.3,276.3 401.5,274.6 402.8,271.8 403.4,270.7 405.3,268.9 406.6,267.2 407.3,265.9 407.4,262.7 408.3,260.2 408.0,258.3 408.4,257.4 409.6,254.3 409.3,251.7 409.9,249.7 410.2,248.9 410.2,245.6 410.7,243.5 410.4,242.1 410.7,239.6 410.9,238.1 411.4,236.7 411.7,234.9 413.1,233.1 414.3,232.1 416.0,230.9 416.3,228.1 416.0,226.3 416.3,222.5 416.2,220.5 416.6,219.5 416.8,215.9 417.4,215.0 416.9,211.6 417.1,210.2 418.0,209.5 418.0,205.6 418.0,203.8 418.0,200.8 418.6,200.8 419.1,197.1 419.3,195.3 419.8,193.9 420.3,192.8 419.9,189.6 421.0,188.0 420.6,185.9 421.0,185.1 420.8,183.2 420.9,179.1 421.1,177.8 420.5,177.1 420.5,174.2 421.0,172.9 420.9,169.3 420.9,167.2 421.2,165.6 421.4,163.3 421.1,161.3 421.7,160.7 421.7,158.1 421.3,155.0 421.7,153.8 421.0,151.0 421.1,150.3 421.9,147.0 421.9,145.3 421.8,144.6 421.8,142.4 422.4,138.6 423.3,138.0 423.7,135.6 424.7,132.8 425.4,131.8 426.4,130.6" fill="none" stroke="#000" stroke-width="5.0" stroke-linejoin="round" stroke-linecap="round" clip-path="url(#clip)"/>
<line x1="208" y1="58" x2="208" y2="598" stroke="#404040" stroke-width="4" stroke-dasharray="13.6 4.7"/>
<polyline points="420.5,156.0 421.5,140.0 423.0,132.0 426.5,130.0" fill="none" stroke="#000" stroke-width="7.5" stroke-linejoin="round" stroke-linecap="round" clip-path="url(#clip)"/>
<polyline points="424.5,132.0 425.0,152.0" fill="none" stroke="#000" stroke-width="4" stroke-linejoin="round" stroke-linecap="round" clip-path="url(#clip)"/>
<polyline points="409.5,241.0 411.0,233.0 416.0,230.0 417.0,236.0" fill="none" stroke="#000" stroke-width="7" stroke-linejoin="round" stroke-linecap="round" clip-path="url(#clip)"/>
<polyline points="387.0,292.0 391.0,282.0 395.0,279.0 399.0,283.0 401.0,276.0" fill="none" stroke="#000" stroke-width="7" stroke-linejoin="round" stroke-linecap="round" clip-path="url(#clip)"/>
<polyline points="371.0,327.0 373.0,317.0 377.0,314.0 380.0,320.0 383.0,310.0" fill="none" stroke="#000" stroke-width="7" stroke-linejoin="round" stroke-linecap="round" clip-path="url(#clip)"/>
<text x="931.0" y="167.5" text-anchor="end" font-size="36.5" font-family="Liberation Sans, sans-serif" stroke="#000" stroke-width="0.45">Li/M:</text>
<line x1="823.5" y1="202.0" x2="860.5" y2="202.0" stroke="#000" stroke-width="4"/>
<text x="860.5" y="212.3" font-size="36.5" fill="#000" stroke="#000" stroke-width="0.45" font-family="Liberation Sans, sans-serif">1.00</text>
<line x1="823.5" y1="245.6" x2="860.5" y2="245.6" stroke="#0070C0" stroke-width="4"/>
<text x="860.5" y="255.9" font-size="36.5" fill="#0070C0" stroke="#0070C0" stroke-width="0.45" font-family="Liberation Sans, sans-serif">1.02</text>
<line x1="823.5" y1="289.2" x2="860.5" y2="289.2" stroke="#FF0000" stroke-width="4"/>
<text x="860.5" y="299.5" font-size="36.5" fill="#FF0000" stroke="#FF0000" stroke-width="0.45" font-family="Liberation Sans, sans-serif">1.04</text>
<line x1="823.5" y1="332.8" x2="860.5" y2="332.8" stroke="#00B050" stroke-width="4"/>
<text x="860.5" y="343.1" font-size="36.5" fill="#00B050" stroke="#00B050" stroke-width="0.45" font-family="Liberation Sans, sans-serif">1.07</text>
<line x1="823.5" y1="376.4" x2="860.5" y2="376.4" stroke="#7030A0" stroke-width="4"/>
<text x="860.5" y="386.7" font-size="36.5" fill="#7030A0" stroke="#7030A0" stroke-width="0.45" font-family="Liberation Sans, sans-serif">1.12</text>
<line x1="176.7" y1="1279.4" x2="176.7" y2="1271.4" stroke="#000" stroke-width="2"/>
<line x1="218.4" y1="1279.4" x2="218.4" y2="1271.4" stroke="#000" stroke-width="2"/>
<line x1="260.1" y1="1279.4" x2="260.1" y2="1271.4" stroke="#000" stroke-width="2"/>
<line x1="301.8" y1="1279.4" x2="301.8" y2="1271.4" stroke="#000" stroke-width="2"/>
<line x1="343.5" y1="1279.4" x2="343.5" y2="1271.4" stroke="#000" stroke-width="2"/>
<line x1="385.2" y1="1279.4" x2="385.2" y2="1271.4" stroke="#000" stroke-width="2"/>
<line x1="426.9" y1="1279.4" x2="426.9" y2="1271.4" stroke="#000" stroke-width="2"/>
<line x1="468.6" y1="1279.4" x2="468.6" y2="1271.4" stroke="#000" stroke-width="2"/>
<line x1="510.3" y1="1279.4" x2="510.3" y2="1271.4" stroke="#000" stroke-width="2"/>
<line x1="552.0" y1="1279.4" x2="552.0" y2="1271.4" stroke="#000" stroke-width="2"/>
<line x1="593.7" y1="1279.4" x2="593.7" y2="1271.4" stroke="#000" stroke-width="2"/>
<line x1="635.4" y1="1279.4" x2="635.4" y2="1271.4" stroke="#000" stroke-width="2"/>
<line x1="677.1" y1="1279.4" x2="677.1" y2="1271.4" stroke="#000" stroke-width="2"/>
<line x1="718.8" y1="1279.4" x2="718.8" y2="1271.4" stroke="#000" stroke-width="2"/>
<line x1="760.5" y1="1279.4" x2="760.5" y2="1271.4" stroke="#000" stroke-width="2"/>
<line x1="802.2" y1="1279.4" x2="802.2" y2="1271.4" stroke="#000" stroke-width="2"/>
<line x1="843.9" y1="1279.4" x2="843.9" y2="1271.4" stroke="#000" stroke-width="2"/>
<line x1="885.6" y1="1279.4" x2="885.6" y2="1271.4" stroke="#000" stroke-width="2"/>
<line x1="927.3" y1="1279.4" x2="927.3" y2="1271.4" stroke="#000" stroke-width="2"/>
<line x1="135.0" y1="1183.0" x2="145.5" y2="1183.0" stroke="#000" stroke-width="2"/>
<line x1="135.0" y1="1086.7" x2="145.5" y2="1086.7" stroke="#000" stroke-width="2"/>
<line x1="135.0" y1="990.3" x2="145.5" y2="990.3" stroke="#000" stroke-width="2"/>
<line x1="135.0" y1="894.0" x2="145.5" y2="894.0" stroke="#000" stroke-width="2"/>
<line x1="135.0" y1="797.6" x2="145.5" y2="797.6" stroke="#000" stroke-width="2"/>
<rect x="134.5" y="748.9" width="834.6" height="530.5" fill="none" stroke="#000" stroke-width="2.3"/>
<text x="103" y="1290.9" text-anchor="end" font-size="36.5" font-family="Liberation Sans, sans-serif" stroke="#000" stroke-width="0.45">0</text>
<text x="103" y="1194.5" text-anchor="end" font-size="36.5" font-family="Liberation Sans, sans-serif" stroke="#000" stroke-width="0.45">0.2</text>
<text x="103" y="1098.7" text-anchor="end" font-size="36.5" font-family="Liberation Sans, sans-serif" stroke="#000" stroke-width="0.45">0.4</text>
<text x="103" y="1002.3" text-anchor="end" font-size="36.5" font-family="Liberation Sans, sans-serif" stroke="#000" stroke-width="0.45">0.6</text>
<text x="103" y="905.0" text-anchor="end" font-size="36.5" font-family="Liberation Sans, sans-serif" stroke="#000" stroke-width="0.45">0.8</text>
<text x="103" y="808.1" text-anchor="end" font-size="36.5" font-family="Liberation Sans, sans-serif" stroke="#000" stroke-width="0.45">1</text>
<text x="135.0" y="1335.4" text-anchor="middle" font-size="36.5" font-family="Liberation Sans, sans-serif" stroke="#000" stroke-width="0.45">0</text>
<text x="343.5" y="1335.4" text-anchor="middle" font-size="36.5" font-family="Liberation Sans, sans-serif" stroke="#000" stroke-width="0.45">50</text>
<text x="552.0" y="1335.4" text-anchor="middle" font-size="36.5" font-family="Liberation Sans, sans-serif" stroke="#000" stroke-width="0.45">100</text>
<text x="760.5" y="1335.4" text-anchor="middle" font-size="36.5" font-family="Liberation Sans, sans-serif" stroke="#000" stroke-width="0.45">150</text>
<text x="969.0" y="1335.4" text-anchor="middle" font-size="36.5" font-family="Liberation Sans, sans-serif" stroke="#000" stroke-width="0.45">200</text>
<text x="532.5" y="1374" text-anchor="middle" font-size="36.5" font-family="Liberation Sans, sans-serif" stroke="#000" stroke-width="0.45">Time [h]</text>
<text transform="translate(31,1002.7) rotate(-90)" text-anchor="middle" font-size="36.5" font-family="Liberation Sans, sans-serif" stroke="#000" stroke-width="0.45">Current [mA]</text>
<text x="136" y="735" font-size="50" font-family="Liberation Sans, sans-serif" stroke="#000" stroke-width="0.45">(b)</text>
<polygon points="245.1,1184.8999999999999 266.1,1184.8999999999999 266.1,1205.1 276.1,1205.1 255.6,1225.6 235.1,1205.1 245.1,1205.1" fill="#595959"/>
<text x="255.6" y="1177" text-anchor="middle" font-size="36.5" fill="#595959" stroke="#595959" stroke-width="0.45" font-family="Liberation Sans, sans-serif">A</text>
<polygon points="392.8,1184.8999999999999 413.8,1184.8999999999999 413.8,1205.1 423.8,1205.1 403.3,1225.6 382.8,1205.1 392.8,1205.1" fill="#595959"/>
<text x="403.3" y="1177" text-anchor="middle" font-size="36.5" fill="#595959" stroke="#595959" stroke-width="0.45" font-family="Liberation Sans, sans-serif">B</text>
<polygon points="901.0,1184.8999999999999 922.0,1184.8999999999999 922.0,1205.1 932.0,1205.1 911.5,1225.6 891.0,1205.1 901.0,1205.1" fill="#595959"/>
<text x="911.5" y="1177" text-anchor="middle" font-size="36.5" fill="#595959" stroke="#595959" stroke-width="0.45" font-family="Liberation Sans, sans-serif">C</text>
<polyline points="136.6,1279.4 136.6,826.3 198.5,826.3 201.0,1160.0 202.0,1240.0" fill="none" stroke="#0070C0" stroke-width="4.5" stroke-linejoin="round" stroke-linecap="round" clip-path="url(#clip)"/>
<polyline points="202.0,1240.0 201.7,1241.1 201.9,1242.5 202.1,1243.4 203.2,1245.3 203.1,1247.9 203.2,1250.0 203.2,1252.8 203.4,1253.4 203.5,1255.4 204.9,1259.2 205.9,1259.6 206.8,1263.9 207.6,1265.3 210.2,1264.4 212.5,1263.5 215.0,1262.4 217.4,1262.6 218.7,1261.8 221.4,1263.2 222.7,1264.7 225.1,1264.5 227.4,1263.7 228.9,1265.3 230.6,1265.2 232.6,1265.3 235.2,1266.1 237.3,1265.2 238.7,1264.5 241.0,1265.5 242.6,1266.6 245.0,1266.3 246.7,1265.4 246.9,1267.6 247.6,1269.8 248.1,1272.8 249.0,1273.2 248.9,1275.2 249.7,1274.9 249.7,1272.1 250.3,1268.1 251.3,1266.6 252.7,1266.9 254.7,1266.9 256.9,1266.9 259.1,1266.7 260.6,1266.2 262.6,1267.3 264.9,1268.1 267.0,1267.9 269.5,1266.4 270.5,1266.6 272.9,1267.7 275.2,1267.2 277.4,1266.4 279.3,1266.9 281.4,1266.6 283.4,1268.3 285.5,1268.0 286.7,1268.9 288.9,1266.9 291.1,1267.9 293.0,1267.1 294.6,1268.2 297.5,1267.1 299.9,1268.5 302.2,1268.0 303.9,1267.8 305.7,1267.4 307.9,1267.3 310.2,1268.7 312.1,1267.2 313.9,1268.2 315.6,1269.5 318.2,1268.5 320.2,1267.8 321.7,1268.6 324.2,1269.0 325.5,1268.9 328.4,1269.3 330.4,1269.9 331.7,1268.3 334.0,1270.0 335.9,1270.0 338.3,1269.0 340.1,1270.1 342.3,1268.5 344.3,1268.3 345.9,1270.1 348.3,1268.5 349.8,1269.3 352.3,1269.4 354.4,1269.5 356.3,1269.3 357.9,1268.8 360.0,1269.1 362.3,1268.4 363.6,1269.6 365.8,1268.8 367.6,1269.8 369.8,1268.5 372.3,1269.0 373.8,1269.9 375.9,1268.7 378.4,1269.7 380.2,1268.4 382.3,1269.1 384.3,1268.4 386.3,1269.3 387.9,1268.8 390.3,1269.4 392.4,1268.8 393.7,1268.2 396.2,1266.8 398.0,1268.5 400.4,1268.5 401.6,1267.6 404.4,1267.6 405.8,1265.9 408.4,1267.8 410.1,1266.4 412.3,1267.4 414.2,1266.7 415.8,1265.8 417.9,1265.7 420.0,1265.1 422.2,1265.6 423.7,1265.4 425.9,1265.8 428.3,1265.0 429.7,1265.5 431.7,1266.6 433.6,1264.9 436.1,1266.6 438.3,1266.1 439.8,1266.9 442.2,1265.9 444.1,1267.0 446.5,1267.0 447.6,1265.6 449.9,1265.2 452.3,1264.9 454.4,1266.2 456.1,1265.8 458.4,1266.2 460.4,1267.0 462.2,1267.2 464.0,1265.7 466.3,1266.1 467.8,1266.4 470.0,1265.1 472.3,1266.0 474.5,1266.1 476.4,1265.5 477.7,1266.1 480.3,1266.8 482.1,1265.1 483.9,1264.9 485.9,1267.1 487.9,1266.5 490.1,1265.1 492.2,1265.0 493.7,1266.2 495.6,1267.1 497.9,1266.3 500.4,1265.1 502.5,1264.9 504.1,1266.4 506.5,1265.7 508.4,1266.4 510.0,1265.2 511.7,1265.7 513.9,1265.7 516.3,1265.7 518.1,1264.9 519.7,1266.5 522.4,1265.6 523.6,1265.4 524.3,1267.8 524.9,1269.8 525.4,1273.1 526.0,1275.2 526.2,1276.1 526.9,1278.4 527.3,1280.9 527.6,1278.9 528.0,1276.3 528.4,1275.1 528.6,1272.7 529.1,1270.2 529.5,1268.3 530.2,1265.2 531.8,1266.8 533.8,1266.7 536.5,1265.3 538.5,1265.4 540.8,1265.3 542.2,1264.9 544.8,1265.3 546.5,1267.1 549.0,1266.6 551.0,1266.3 552.5,1266.8 553.1,1269.0 553.5,1271.3 553.4,1273.6 553.8,1274.6 554.4,1277.9 554.9,1280.0 555.4,1280.8 555.1,1278.0 556.1,1277.8 556.4,1274.2 556.8,1272.8 556.9,1270.8 557.3,1267.0 557.6,1266.0 560.2,1265.2 561.9,1266.1 563.8,1265.6 566.1,1265.1 567.7,1265.6 570.2,1264.3 572.3,1265.4 574.4,1265.7 576.0,1265.5 577.8,1265.4 579.6,1264.6 582.0,1265.9 584.2,1266.0 586.4,1266.1 588.1,1265.3 590.0,1264.3 592.3,1265.3 593.7,1264.4 595.7,1265.5 598.1,1264.3 600.2,1265.2 601.8,1264.9 604.5,1264.1 605.7,1265.2 608.3,1266.0 609.9,1265.6 611.6,1264.7 614.3,1265.4 615.9,1265.2 618.0,1265.1 620.4,1266.1 621.7,1265.6 624.4,1265.2 626.0,1264.6 628.0,1265.1 630.1,1263.9 632.5,1264.3 634.0,1264.0 636.1,1263.7 637.8,1264.4 639.8,1264.6 641.7,1264.6 644.3,1264.9 646.5,1265.6 648.0,1264.5 650.3,1265.4 652.0,1264.9 654.2,1264.5 656.0,1264.2 658.0,1264.3 660.3,1263.5 661.6,1265.3 664.0,1264.7 666.4,1264.8 668.1,1265.3 670.1,1264.0 671.7,1263.3 674.3,1265.1 675.9,1264.1 678.2,1264.3 679.8,1265.0 681.5,1266.5 683.2,1267.9 684.7,1265.3 686.0,1264.4 688.1,1263.4 689.7,1262.9 691.6,1263.0 694.0,1263.9 696.2,1263.5 698.3,1262.4 699.9,1262.6 702.0,1263.6 704.1,1263.2 705.9,1262.8 707.6,1262.4 710.0,1263.3 711.6,1263.9 713.5,1262.1 716.0,1262.5 718.0,1263.3 720.1,1263.4 722.0,1263.1 723.9,1261.7 725.6,1261.8 727.9,1261.9 730.1,1262.8 732.4,1261.5 734.4,1261.0 736.4,1263.3 737.9,1262.8 740.0,1262.1 742.3,1263.1 743.8,1261.3 746.4,1262.2 748.4,1261.3 750.3,1261.2 751.7,1261.5 754.4,1261.7 755.9,1261.5 757.6,1261.9 760.0,1261.6 762.2,1261.5 764.5,1263.0 766.1,1261.0 768.1,1262.3 770.1,1261.8 772.2,1263.2 774.2,1260.9 776.1,1262.3 778.0,1263.1 779.6,1260.8 782.2,1261.0 783.7,1262.8 785.9,1262.9 788.3,1262.4 789.9,1261.0 792.5,1262.9 794.4,1262.0 795.8,1262.3 797.9,1261.3 799.6,1261.8 801.7,1261.4 804.5,1262.9 806.4,1261.8 808.3,1260.9 810.1,1262.7 812.3,1262.7 814.1,1261.0 815.5,1260.8 818.3,1261.3 820.1,1261.9 821.8,1260.3 824.4,1261.3 825.5,1261.4 828.2,1261.5 829.6,1260.3 832.2,1261.1 833.9,1261.8 835.8,1261.5 837.7,1260.4 840.5,1260.9 842.2,1261.2 844.1,1260.4 846.3,1260.2 848.4,1260.7 849.5,1259.5 852.4,1259.0 853.5,1260.1 856.2,1261.0 858.4,1260.1 860.2,1259.9 862.3,1260.2 863.6,1260.0 865.6,1259.3 867.8,1260.6 869.7,1259.3 872.1,1258.9 874.0,1259.0 876.2,1260.2 878.1,1260.3 880.0,1260.0 881.6,1259.1 883.8,1260.2 886.0,1259.0 888.2,1260.3 890.3,1259.9 892.2,1259.9 894.1,1258.9 895.8,1258.5 897.8,1259.0 900.3,1258.4 901.9,1258.4 904.0,1257.8 906.1,1259.7 908.4,1258.4 909.7,1259.3 912.2,1257.9 913.6,1259.0 915.9,1258.6 918.1,1259.4 919.6,1257.9 921.6,1258.8 923.6,1259.2 926.1,1258.3 927.8,1259.1 929.6,1258.3 932.3,1258.5 933.6,1257.1 935.8,1258.5 937.7,1259.0 940.4,1258.0 942.4,1258.1 943.7,1257.5 945.5,1257.5 948.5,1257.4 950.2,1257.2 952.2,1257.1 954.4,1257.2 955.8,1257.2 957.6,1256.9 960.2,1257.1 961.9,1256.6 964.3,1258.1 965.9,1255.9 967.9,1258.0 970.1,1256.3" fill="none" stroke="#0070C0" stroke-width="5.0" stroke-linejoin="round" stroke-linecap="round" clip-path="url(#clip)"/>
<polyline points="134.6,1279.4 134.6,827.5 198.0,827.5 199.5,1080.0 201.0,1130.0" fill="none" stroke="#7030A0" stroke-width="4.5" stroke-linejoin="round" stroke-linecap="round" clip-path="url(#clip)"/>
<polyline points="201.0,1130.0 201.3,1130.8 201.2,1131.5 201.0,1134.6 201.7,1136.9 201.9,1139.0 202.0,1141.1 202.7,1142.3 202.8,1145.0 202.7,1146.8 203.5,1148.2 203.8,1151.3 204.1,1152.5 203.6,1155.7 204.7,1157.0 204.5,1158.6 205.4,1160.9 206.1,1163.8 205.9,1166.1 206.4,1168.9 207.4,1170.0 207.5,1172.5 208.1,1175.1 207.7,1175.7 208.7,1177.5 209.1,1179.0 209.7,1182.1 209.2,1184.4 209.7,1185.3 210.2,1187.1 210.2,1190.9 211.0,1190.8 211.4,1192.8 211.2,1197.0 211.8,1197.5 211.9,1199.7 212.1,1203.3 212.4,1204.0 213.5,1206.0 214.1,1207.7 214.5,1211.4 214.7,1213.4 214.9,1215.4 215.6,1216.7 215.7,1219.2 216.1,1219.8 216.8,1222.4 217.0,1225.7 217.5,1225.9 218.2,1229.2 219.3,1230.4 220.2,1234.0 220.8,1234.8 222.6,1236.9 223.2,1238.1 224.6,1238.9 225.7,1240.9 227.3,1242.6 229.2,1245.4 231.4,1245.2 233.1,1246.3 234.9,1248.0 237.3,1249.8 238.8,1248.4 241.0,1249.3 242.5,1251.9 244.6,1252.5 246.9,1253.3 249.3,1251.3 250.7,1253.7 253.1,1252.6 255.3,1253.8 257.0,1253.1 258.6,1253.1 260.7,1253.9 263.1,1252.9 265.1,1253.0 266.6,1254.3 269.0,1254.8 271.1,1254.3 272.6,1254.5 274.6,1254.0 277.4,1254.6 279.4,1253.4 281.2,1254.2 282.7,1254.5 285.4,1253.2 287.3,1253.1 288.8,1253.7 290.6,1253.9 293.5,1252.6 295.4,1252.0 297.8,1252.5 300.4,1252.8 302.4,1251.7 303.6,1253.5 306.1,1252.6 307.6,1251.6 309.9,1251.2 312.5,1252.7 314.4,1252.4 315.8,1250.8 318.2,1250.7 320.0,1251.4 322.0,1250.3 323.6,1251.2 325.5,1251.1 327.7,1250.4 329.7,1250.9 331.9,1249.9 333.7,1250.6 336.4,1250.1 337.7,1249.7 339.8,1250.2 342.3,1250.1 343.7,1249.4 345.9,1249.7 347.9,1250.9 350.0,1250.1 352.2,1249.9 354.3,1249.2 356.2,1250.6 357.7,1249.7 359.9,1248.3 361.6,1249.9 363.6,1249.7 365.6,1248.8 367.6,1249.2 370.3,1248.3 372.1,1250.0 373.8,1248.9 376.2,1249.8 377.7,1249.2 379.6,1247.9 382.5,1247.7 384.4,1249.3 386.2,1249.2 388.1,1248.1 389.9,1247.9 392.3,1249.2 394.3,1247.8 396.1,1247.9 398.3,1249.0 400.5,1248.9 402.2,1249.0 403.6,1248.5 405.6,1248.0 407.6,1249.3 409.5,1249.2 412.4,1248.0 414.3,1247.0 415.7,1246.9 417.6,1246.8 420.3,1247.0 422.1,1247.3 423.6,1247.4 425.7,1248.6 427.9,1247.5 430.1,1247.4 432.0,1246.4 433.7,1247.7 435.7,1246.4 438.3,1246.5 440.4,1246.9 442.0,1245.1 444.1,1242.9 446.3,1246.1 448.2,1246.9 450.0,1247.2 452.4,1245.7 454.4,1247.6 456.3,1246.4 457.8,1246.1 459.9,1248.0 461.9,1246.1 463.8,1246.5 466.1,1248.3 468.4,1246.8 469.9,1247.1 472.4,1248.9 474.0,1249.2 476.0,1248.9 478.0,1248.0 480.5,1249.2 482.1,1249.4 484.1,1249.3 485.6,1247.8 487.6,1249.0 490.2,1248.0 492.0,1248.0 494.2,1249.6 495.6,1250.2 498.2,1248.2 499.9,1248.4 502.2,1250.3 503.7,1248.6 506.1,1250.3 508.2,1249.4 509.6,1249.9 512.0,1250.4 514.1,1250.3 516.5,1250.1 518.4,1249.4 519.5,1250.9 521.5,1251.2 524.0,1249.0 525.8,1250.7 527.9,1250.5 529.6,1251.0 531.9,1251.0 533.7,1250.7 536.0,1250.1 537.5,1250.4 540.3,1249.4 541.9,1249.3 544.5,1251.6 546.2,1250.5 547.6,1249.7 550.2,1251.3 552.5,1251.5 553.9,1250.1 556.0,1250.4 558.0,1251.7 560.0,1252.0 562.2,1249.7 564.2,1251.3 566.1,1249.7 568.4,1250.9 570.0,1250.2 571.6,1249.9 573.7,1250.6 575.7,1250.1 578.2,1251.6 580.4,1250.5 582.2,1251.5 583.6,1252.2 585.9,1250.6 587.7,1252.4 589.7,1251.1 592.0,1251.1 594.1,1250.5 595.9,1251.7 598.1,1251.8 599.8,1251.9 602.5,1251.6 604.1,1252.5 605.8,1251.2 608.5,1251.3 609.9,1251.5 612.5,1251.9 614.4,1251.1 615.8,1252.3 617.8,1252.4 620.0,1251.0 621.6,1251.9 624.0,1251.4 625.8,1251.0 627.8,1251.8 629.9,1252.6 632.3,1252.9 634.2,1251.9 636.0,1253.1 638.4,1252.0 639.5,1251.6 642.0,1253.6 643.7,1253.5 646.1,1253.7 648.4,1252.0 650.3,1252.1 651.6,1252.8 654.0,1252.1 655.8,1252.4 657.6,1252.3 659.5,1252.7 661.8,1253.2 664.2,1253.7 666.0,1253.1 668.1,1252.9 669.7,1252.7 672.2,1252.9 673.7,1253.4 676.1,1254.2 678.1,1254.2 679.7,1255.0 682.2,1254.0 683.9,1254.6 685.6,1254.9 688.4,1254.5 690.0,1254.4 692.4,1254.9 693.9,1255.9 695.9,1256.6 697.9,1256.0 699.8,1256.2 702.0,1255.2 704.4,1255.6 706.1,1257.0 708.0,1256.4 710.0,1258.2 711.5,1258.1 714.1,1257.4 716.1,1257.9 718.3,1258.9 720.0,1257.6 721.9,1259.1 724.0,1257.2 726.1,1257.4 727.9,1258.8 730.1,1258.6 732.3,1258.9 734.5,1259.4 735.8,1259.5 737.9,1260.0 740.1,1258.8 741.7,1259.9 743.9,1258.0 746.3,1258.1 747.6,1258.3 750.1,1259.6 752.0,1260.6 754.0,1259.0 756.5,1258.9 757.6,1259.2 760.5,1259.8 761.9,1259.8 763.9,1260.7 766.1,1259.7 767.7,1261.0 770.1,1260.3 771.7,1261.5 774.0,1261.5 776.2,1260.9 777.5,1261.6 780.3,1259.7 781.6,1261.2 784.2,1260.1 786.5,1259.9 788.1,1260.9 789.8,1261.4 791.9,1261.6 794.3,1259.7 795.8,1260.9 797.8,1261.0 799.5,1259.7 802.0,1259.9 803.7,1260.3 806.1,1260.8 808.1,1260.4 809.9,1261.2 812.3,1261.2 814.4,1260.6 815.7,1260.6 817.8,1259.6 819.9,1258.9 821.9,1259.4 823.7,1260.0 826.2,1260.7 827.8,1260.9 829.9,1260.2 831.9,1260.1 833.7,1261.8 836.1,1261.2 838.1,1260.9 840.1,1259.8 841.6,1261.5 844.0,1260.7 845.7,1261.8 848.4,1263.5 849.6,1262.9 851.9,1262.7 853.8,1265.2 856.4,1263.6 858.3,1263.4 860.1,1263.4 862.1,1264.7 864.5,1264.8 866.4,1264.1 868.1,1264.2 869.6,1266.2 871.5,1264.6 873.8,1264.3 876.3,1265.6 877.9,1265.2 880.3,1263.9 882.1,1265.8 884.1,1265.1 885.8,1264.2 887.7,1264.7 889.8,1265.7 891.7,1264.1 894.3,1264.9 895.6,1265.8 897.6,1264.7 899.9,1265.0 901.7,1266.0 904.1,1264.6 906.1,1264.7 908.1,1265.2 909.8,1265.9 911.6,1266.1 913.9,1265.2 915.6,1265.3 917.8,1265.7 920.2,1264.5 921.6,1266.6 923.7,1266.1 926.2,1266.5 927.5,1266.2 930.3,1264.9 930.9,1265.3 932.9,1263.2 934.3,1261.3 935.7,1260.3 937.5,1261.6 940.2,1262.5 941.8,1260.5 943.9,1262.6 945.7,1262.5 948.1,1262.3 949.6,1262.5 951.9,1262.5 953.6,1261.5 956.1,1262.5 958.0,1263.1 959.8,1265.3 961.8,1267.1 963.9,1265.5 965.9,1266.3 967.8,1267.1 969.7,1266.2" fill="none" stroke="#7030A0" stroke-width="5.0" stroke-linejoin="round" stroke-linecap="round" clip-path="url(#clip)"/>
<polyline points="134.6,1279.4 134.6,827.5 202.0,827.5 202.5,1120.0 203.5,1160.0" fill="none" stroke="#00B050" stroke-width="4.5" stroke-linejoin="round" stroke-linecap="round" clip-path="url(#clip)"/>
<polyline points="203.5,1160.0 203.3,1159.2 203.7,1161.0 203.6,1163.7 203.2,1166.0 203.3,1167.8 203.3,1169.0 203.7,1172.8 203.5,1173.3 204.0,1177.1 204.0,1177.8 204.5,1178.9 204.7,1181.5 204.5,1183.1 205.0,1186.8 205.3,1188.2 206.1,1189.7 206.4,1191.0 206.4,1193.3 207.4,1195.8 207.4,1198.2 208.0,1199.5 208.6,1202.5 208.4,1204.2 208.9,1206.9 209.4,1207.5 210.0,1209.1 209.7,1212.6 209.8,1214.0 210.0,1216.4 211.0,1218.2 211.4,1219.6 211.8,1222.4 212.2,1224.2 213.0,1227.5 213.3,1229.0 213.4,1231.2 214.6,1234.0 215.3,1234.5 215.7,1237.6 216.2,1239.2 217.2,1240.6 217.9,1244.3 218.8,1245.2 219.9,1248.9 221.3,1249.2 223.4,1251.6 225.3,1252.9 226.5,1253.1 228.2,1255.6 230.4,1255.2 231.8,1255.8 234.0,1256.8 236.5,1256.7 238.1,1257.5 240.6,1258.3 243.3,1259.0 245.0,1259.3 247.2,1257.9 249.4,1259.7 251.4,1259.7 252.9,1258.8 254.6,1259.3 256.6,1258.0 258.7,1258.2 260.8,1257.9 262.5,1258.2 264.6,1258.7 266.5,1259.8 269.1,1258.0 270.8,1258.4 272.9,1257.8 275.3,1259.9 277.0,1258.6 278.6,1257.6 280.8,1257.9 283.3,1257.6 284.5,1259.4 287.0,1257.4 289.0,1257.1 291.0,1259.3 293.3,1258.5 294.8,1257.7 296.8,1258.6 299.2,1258.5 301.1,1257.1 303.6,1258.8 305.8,1258.3 307.8,1258.1 309.3,1257.5 311.5,1256.2 313.3,1256.7 315.6,1257.6 318.4,1257.0 320.4,1258.2 322.4,1256.6 323.7,1256.3 325.7,1256.2 328.1,1257.8 330.3,1256.8 332.1,1257.5 333.6,1257.1 336.4,1257.4 338.2,1256.6 339.7,1257.3 341.8,1257.3 344.5,1256.3 345.9,1257.6 348.2,1255.6 349.6,1255.6 352.4,1257.1 353.7,1257.1 356.5,1256.7 357.9,1256.4 359.6,1255.0 362.5,1256.5 364.0,1257.2 365.9,1257.0 368.3,1255.3 369.8,1255.5 371.8,1256.1 373.9,1255.6 375.9,1256.7 378.2,1255.6 380.5,1256.6 382.4,1256.5 384.6,1255.5 386.7,1254.2 388.7,1254.5 390.4,1255.9 392.6,1255.0 395.2,1255.1 396.9,1255.0 399.2,1255.6 400.9,1255.0 403.1,1254.3 405.7,1254.8 407.6,1255.4 410.0,1254.6 411.8,1254.7 413.8,1255.1 415.8,1254.7 417.9,1255.6 420.2,1255.4 422.4,1253.8 424.1,1255.3 426.3,1253.2 427.6,1253.8 429.6,1253.2 431.6,1254.1 434.3,1254.5 435.7,1253.9 438.2,1252.4 440.4,1254.3 441.7,1254.1 442.6,1251.0 443.8,1249.8 443.7,1246.8 445.0,1249.4 445.7,1252.1 448.2,1251.4 450.1,1252.4 451.5,1252.2 454.1,1252.7 455.6,1253.9 458.3,1253.9 459.6,1252.2 461.6,1253.5 463.8,1252.0 465.9,1253.9 468.3,1252.4 469.7,1254.0 472.2,1253.5 473.8,1251.9 476.4,1252.8 477.9,1254.1 480.5,1253.7 482.1,1253.9 484.2,1253.9 486.6,1252.6 488.8,1254.0 490.6,1252.1 492.9,1252.4 494.6,1252.2 496.6,1252.3 499.0,1252.5 501.5,1252.5 503.3,1252.2 505.2,1251.8 507.2,1251.8 509.7,1253.1 511.3,1252.9 514.1,1252.1 516.0,1252.8 517.8,1253.8 519.8,1253.0 522.1,1254.2 523.8,1253.8 525.7,1250.3 526.9,1252.6 528.6,1252.2 530.6,1253.8 532.8,1252.5 534.6,1254.3 537.4,1254.0 538.8,1253.0 540.8,1253.7 542.7,1253.8 544.8,1255.1 547.5,1254.3 548.8,1255.5 550.8,1254.3 552.5,1254.5 555.0,1255.0 556.9,1254.9 558.8,1254.1 561.0,1254.3 563.1,1253.3 565.5,1253.6 567.9,1254.2 570.2,1254.4 572.2,1254.9 573.9,1253.6 576.5,1253.2 578.2,1254.4 579.6,1254.9 582.4,1254.4 584.2,1254.9 585.7,1254.2 588.0,1255.0 590.3,1255.0 592.1,1255.2 594.2,1254.7 595.7,1253.1 597.6,1253.9 599.6,1255.1 602.1,1254.6 604.1,1254.8 606.0,1253.2 608.3,1255.0 610.0,1254.5 612.2,1253.4 614.2,1253.8 615.6,1253.9 618.2,1253.8 620.2,1255.6 622.0,1254.2 624.0,1254.9 626.3,1254.7 628.1,1253.4 629.7,1253.8 632.2,1254.0 634.1,1253.2 635.6,1253.8 638.2,1254.8 640.2,1253.9 642.0,1254.3 644.0,1253.4 646.4,1253.6 648.5,1255.4 649.5,1254.2 652.3,1255.4 654.0,1253.7 655.7,1255.3 657.7,1254.5 659.7,1254.3 662.4,1253.4 664.3,1254.2 666.4,1254.7 667.7,1255.2 670.0,1253.0 671.5,1254.2 674.0,1253.7 675.7,1253.8 677.8,1255.0 679.5,1254.7 682.3,1253.2 684.4,1254.6 686.4,1253.6 687.9,1253.8 690.5,1254.3 691.9,1253.9 693.8,1253.0 695.6,1254.8 697.8,1255.1 699.8,1253.4 702.0,1253.2 703.9,1255.1 706.4,1254.7 708.1,1254.9 710.4,1254.0 712.2,1252.8 714.2,1253.7 716.2,1254.2 717.8,1252.7 720.4,1252.9 722.0,1253.4 723.8,1254.3 726.5,1253.2 728.1,1253.2 730.1,1253.4 731.7,1252.9 733.7,1254.6 736.0,1253.0 738.4,1254.8 740.0,1252.7 741.7,1252.6 743.8,1252.6 745.7,1253.0 748.1,1254.4 750.2,1253.3 751.9,1253.5 753.9,1253.1 755.6,1252.9 758.4,1252.5 760.0,1253.7 762.3,1252.7 763.8,1252.8 765.9,1253.2 768.4,1254.2 770.4,1252.2 771.6,1253.8 774.4,1253.2 776.1,1252.0 777.9,1254.2 780.3,1254.1 782.5,1252.6 783.6,1252.3 786.0,1253.6 788.4,1253.7 790.1,1253.7 792.0,1253.2 793.6,1253.7 795.7,1254.0 798.1,1252.5 799.6,1252.4 802.1,1253.4 803.6,1251.8 806.0,1253.0 807.9,1252.0 810.1,1251.4 811.8,1252.4 814.4,1252.8 816.4,1252.3 817.7,1251.7 820.4,1252.7 821.8,1251.0 824.0,1252.5 825.9,1251.4 828.2,1252.9 829.7,1250.7 831.8,1251.5 834.2,1250.9 836.3,1252.1 838.0,1250.8 840.5,1250.9 842.3,1250.7 843.7,1251.9 845.8,1252.2 848.0,1250.3 849.7,1250.8 852.2,1252.1 853.7,1250.7 855.7,1252.1 857.7,1249.9 859.6,1250.7 862.4,1251.9 864.2,1252.2 866.4,1250.6 867.7,1252.0 870.2,1249.9 872.2,1250.7 873.9,1250.6 875.7,1249.8 877.8,1250.6 880.4,1250.1 882.4,1250.3 883.9,1251.8 886.3,1250.8 887.6,1250.9 889.9,1252.0 891.7,1250.7 894.4,1249.9 895.9,1251.7 898.3,1249.9 899.6,1250.0 902.4,1250.5 904.2,1252.0 905.8,1250.6 908.4,1251.4 909.8,1251.7 911.8,1250.7 913.5,1251.9 916.4,1251.6 918.4,1250.2 919.7,1251.3 922.4,1252.5 923.9,1250.9 925.9,1251.5 928.4,1250.8 930.3,1252.2 932.3,1252.3 934.1,1251.3 935.8,1251.4 938.3,1250.7 939.7,1252.4 941.8,1250.8 943.6,1252.0 945.8,1253.1 948.4,1253.1 949.8,1251.0 951.6,1252.4 954.2,1252.7 955.7,1253.0 958.1,1254.0 960.2,1254.8 962.2,1253.5 964.3,1254.3 966.1,1254.9 968.2,1254.9 969.8,1255.4" fill="none" stroke="#00B050" stroke-width="5.0" stroke-linejoin="round" stroke-linecap="round" clip-path="url(#clip)"/>
<polyline points="134.6,1279.4 134.6,827.5 205.5,827.5 206.0,1240.0" fill="none" stroke="#000" stroke-width="4.5" stroke-linejoin="round" stroke-linecap="round" clip-path="url(#clip)"/>
<polyline points="206.0,1240.0 206.0,1239.6 205.8,1243.1 205.8,1244.0 207.1,1244.7 206.9,1248.3 206.4,1249.6 207.4,1251.9 207.7,1253.0 207.3,1254.8 207.8,1259.3 208.1,1260.8 208.2,1262.9 208.2,1263.7 209.2,1267.2 209.2,1267.4 209.4,1270.0 209.7,1273.9 211.1,1271.7 213.5,1266.7 215.2,1268.0 217.1,1267.8 220.5,1266.8 222.3,1266.7 224.4,1268.9 226.1,1266.1 228.1,1267.5 230.1,1266.0 232.9,1268.4 234.9,1266.7 237.2,1266.0 239.1,1266.4 241.1,1269.0 242.5,1268.0 245.1,1266.9 246.7,1269.6 249.6,1267.1 251.2,1269.7 252.7,1268.7 254.5,1268.1 257.2,1268.9 259.3,1267.5 260.8,1269.9 263.1,1268.8 264.9,1270.5 267.1,1267.4 269.4,1268.2 270.9,1267.7 272.9,1267.9 274.5,1268.7 276.5,1269.1 278.4,1268.9 281.4,1267.9 283.3,1267.0 285.3,1267.4 286.7,1268.9 288.9,1267.0 291.4,1266.9 293.2,1266.1 295.4,1266.3 297.0,1267.9 299.7,1267.1 302.5,1266.2 303.5,1264.8 305.7,1265.6 308.1,1266.9 309.9,1264.9 312.1,1264.8 313.6,1265.8 316.2,1264.6 318.0,1266.0 320.3,1265.2 322.4,1264.7 324.2,1266.1 326.4,1265.3 327.6,1264.2 330.0,1264.5 332.1,1264.2 334.3,1264.5 335.5,1264.3 338.0,1265.2 339.9,1264.2 342.0,1265.9 344.0,1265.8 345.5,1265.7 348.4,1264.5 350.0,1264.3 352.4,1263.1 354.1,1264.1 355.8,1264.3 358.2,1262.7 360.2,1263.4 362.0,1263.7 363.6,1263.4 365.9,1264.0 367.7,1263.7 370.2,1263.0 372.4,1261.5 374.1,1262.7 376.2,1262.1 377.6,1261.4 380.1,1261.2 381.6,1261.6 384.0,1262.0 385.5,1262.5 387.8,1262.5 389.5,1262.8 392.1,1262.8 394.5,1262.4 395.6,1261.2 397.7,1262.2 399.7,1260.8 401.6,1260.5 404.4,1262.5 405.9,1261.9 408.0,1261.4 409.9,1261.6 411.7,1260.6 414.0,1260.4 415.9,1262.2 417.5,1260.1 420.3,1259.9 421.8,1261.8 424.3,1260.2 425.8,1260.3 428.1,1261.6 430.9,1261.5 432.9,1261.8 434.9,1261.7 437.1,1259.7 438.6,1260.0 440.9,1260.6 442.8,1261.4 444.9,1259.8 446.9,1260.4 449.3,1260.6 451.2,1259.6 453.2,1259.9 455.1,1260.4 457.2,1260.8 459.7,1259.3 461.8,1259.8 463.7,1260.4 466.1,1261.0 468.1,1259.3 470.0,1259.6 471.6,1260.0 474.1,1260.5 476.1,1260.3 478.3,1258.4 480.6,1258.6 482.5,1258.0 484.1,1259.8 486.2,1257.8 488.4,1257.5 491.1,1259.5 493.1,1257.9 495.4,1258.0 496.8,1257.9 499.2,1256.3 501.3,1256.0 503.3,1256.0 506.1,1255.3 507.4,1255.0 509.5,1253.9 512.4,1253.5 514.4,1252.8 515.8,1250.4 518.0,1250.8 519.7,1249.1 522.7,1247.9 525.1,1247.1 525.9,1243.4 525.7,1242.7 527.2,1243.5 527.6,1246.3 530.1,1248.0 531.9,1246.4 534.4,1246.9 536.6,1248.4 538.8,1247.7 540.5,1246.2 542.8,1247.0 544.6,1247.6 547.1,1247.5 549.2,1248.5 550.4,1247.1 553.3,1248.1 555.5,1246.7 556.0,1246.3 557.0,1243.4 558.5,1244.2 558.6,1247.8 561.3,1245.9 563.7,1245.7 565.2,1245.3 567.4,1245.2 570.3,1244.9 572.4,1243.3 573.7,1242.9 576.1,1242.5 578.2,1242.7 580.1,1242.8 582.4,1242.7 584.0,1241.1 586.9,1240.9 588.4,1240.8 590.4,1241.4 593.0,1239.3 595.4,1240.0 596.8,1239.9 599.6,1239.0 600.8,1238.3 602.9,1238.7 605.2,1239.2 607.2,1236.8 609.5,1236.8 611.5,1236.7 613.4,1237.3 616.3,1236.4 618.0,1235.9 620.4,1236.1 621.5,1236.0 623.7,1233.7 625.5,1235.0 628.2,1233.3 630.1,1233.5 631.6,1232.8 634.2,1232.7 635.6,1231.1 638.0,1231.0 639.9,1229.9 642.4,1228.4 644.0,1229.0 645.6,1228.5 647.8,1226.6 649.8,1226.7 652.0,1226.0 653.6,1225.7 656.3,1224.6 657.7,1223.0 660.0,1222.0 662.4,1222.2 664.4,1221.0 666.1,1221.9 668.1,1220.4 669.5,1219.8 671.9,1220.6 674.5,1220.1 676.5,1217.7 677.5,1217.5 679.5,1216.6 682.1,1216.3 683.6,1215.0 684.8,1214.6 686.2,1212.7 688.0,1210.4 689.7,1209.8 692.4,1207.7 694.0,1208.0 696.0,1207.4 698.1,1205.6 698.4,1204.7 698.4,1202.2 698.7,1199.9 698.4,1197.8 699.3,1196.5 698.8,1193.9 699.5,1192.1 699.3,1190.4 700.0,1188.1 700.4,1186.2 700.7,1183.5 702.6,1181.0 704.0,1180.5 705.1,1177.2 705.5,1176.9 707.2,1173.9 708.4,1172.6 709.5,1170.7 710.5,1169.2 712.2,1165.6 713.2,1165.2 714.3,1163.0 716.1,1161.9 716.8,1159.7 718.4,1158.0 719.1,1155.3 720.7,1154.5 722.0,1150.9 721.9,1150.8 722.7,1148.2 722.1,1146.7 723.1,1143.5 722.9,1141.5 722.7,1140.6 722.9,1137.0 723.8,1135.0 723.9,1134.8 723.6,1131.7 723.7,1130.5 725.0,1128.6 725.1,1126.1 725.6,1124.5 726.1,1121.4 727.0,1119.4 727.9,1118.5 727.7,1114.9 730.1,1113.9 732.0,1113.7 734.3,1112.0 736.0,1111.8 737.6,1110.7 740.3,1110.9 742.4,1110.4 743.6,1111.2 746.0,1111.4 747.7,1111.7 750.4,1113.1 752.1,1112.4 754.1,1113.2 755.6,1115.7 757.8,1113.5 760.3,1112.7 761.7,1112.0 764.4,1112.6 765.7,1110.4 768.4,1109.8 770.2,1110.5 772.1,1109.1 773.9,1107.9 776.1,1106.8 778.0,1106.2 779.9,1106.9 781.9,1105.3 783.7,1102.8 785.7,1103.8 787.4,1102.0 789.3,1102.0 790.5,1098.4 792.2,1096.4 793.8,1094.9 795.2,1094.0 797.5,1093.4 800.6,1093.2 802.1,1092.4 803.3,1094.9 804.8,1096.5 805.7,1099.9 806.3,1097.7 807.1,1093.9 807.9,1091.8 809.3,1090.2 809.9,1088.5 810.5,1087.8 811.4,1084.6 813.2,1082.5 814.1,1082.1 816.5,1080.4 817.9,1079.0 819.7,1076.4 819.1,1074.1 819.5,1072.2 819.6,1068.4 819.6,1066.4 820.3,1065.4 820.3,1062.3 820.6,1060.4 822.3,1058.3 824.6,1057.4 826.0,1055.3 826.3,1053.7 826.7,1052.1 827.0,1049.5 827.7,1046.1 828.2,1043.7 828.1,1043.3 828.9,1040.1 830.1,1039.8 831.6,1036.2 832.2,1035.8 833.0,1032.7 833.6,1030.3 835.1,1028.5 837.5,1028.2 838.5,1027.3 841.1,1024.4 840.8,1023.2 841.4,1020.7 841.3,1018.4 841.9,1014.5 841.8,1012.7 842.3,1010.5 843.3,1008.6 843.4,1006.0 844.0,1004.8 845.1,1002.2 845.9,1001.0 846.2,999.4 847.1,996.8 848.1,995.4 848.2,993.7 849.0,991.8 849.6,990.0 849.5,988.6 849.6,984.7 850.2,983.2 850.9,981.2 851.6,979.1 851.9,977.8 853.4,976.7 854.0,973.5 855.7,972.8 856.7,969.3 857.3,968.2 857.9,966.1 859.0,963.7 859.2,961.3 859.8,959.6 859.9,956.2 861.0,955.8 862.6,953.2 864.4,953.0 866.8,952.7 868.9,950.7 869.2,949.5 869.9,945.7 869.5,943.6 869.7,943.3 871.0,940.5 871.2,938.9 871.5,936.2 872.2,934.0 871.7,931.4 874.2,933.9 876.2,934.7 877.4,934.4 877.7,933.6 877.6,930.2 878.4,929.0 877.9,925.7 878.2,923.9 878.7,921.5 879.2,920.5 879.2,918.2 879.6,915.6 879.8,913.9 879.6,912.6 879.9,910.6 880.1,907.4 880.1,906.4 880.4,903.5 880.6,901.4 880.2,899.3 881.2,897.5 881.1,895.3 881.2,893.6 882.3,893.2 883.5,891.0 884.6,888.1 885.1,887.0 886.4,886.4 886.8,883.3 888.2,881.8 888.7,879.9 889.5,877.4 891.5,876.3 892.5,874.3 893.6,873.9 894.1,871.4 896.1,869.9 896.4,868.0 898.4,868.5 899.8,871.6 900.7,874.0 902.7,874.2 903.2,873.3 903.5,871.1 905.2,868.5 905.6,867.9 906.8,865.9 906.8,863.9 907.8,860.3 908.1,863.6 909.0,865.0 909.3,867.4 909.8,868.8 910.4,871.3 911.2,871.5 912.8,869.6 915.0,867.2 915.0,864.8 914.9,864.3 915.6,862.0 915.6,858.2 916.1,858.4 915.9,855.6 915.9,854.3 916.7,850.2 916.9,849.6 916.9,847.4 917.6,845.6 917.4,844.2 917.8,841.7 917.9,839.7 918.3,837.0 918.3,834.3 918.7,833.5 918.7,829.9 919.2,829.3 919.3,826.1 921.8,827.4 924.0,826.1" fill="none" stroke="#000" stroke-width="5.0" stroke-linejoin="round" stroke-linecap="round" clip-path="url(#clip)"/>
<polyline points="135.1,1279.4 135.1,827.8 204.0,827.8 204.5,1230.0" fill="none" stroke="#FF0000" stroke-width="4.5" stroke-linejoin="round" stroke-linecap="round" clip-path="url(#clip)"/>
<polyline points="204.5,1230.0 204.6,1229.8 204.9,1231.0 205.5,1235.1 205.6,1234.8 205.7,1237.4 205.7,1241.5 207.2,1240.5 207.5,1244.4 207.3,1245.3 208.2,1247.9 210.3,1249.6 211.5,1250.9 214.2,1253.1 215.2,1251.5 214.8,1249.3 216.6,1247.3 216.2,1251.4 216.4,1252.2 216.9,1252.5 218.6,1256.7 219.5,1256.1 222.4,1255.9 225.0,1259.1 227.4,1258.5 229.9,1257.6 231.7,1258.8 233.9,1258.3 236.4,1258.6 235.7,1259.0 237.0,1255.8 236.5,1253.1 236.5,1252.4 236.6,1248.7 237.1,1251.1 237.6,1255.5 238.0,1256.5 237.6,1258.6 237.3,1261.7 239.8,1260.8 241.4,1261.6 244.1,1261.8 246.5,1263.2 247.6,1263.1 248.8,1265.3 248.5,1265.9 248.6,1269.5 248.7,1271.5 249.1,1274.1 249.3,1270.7 249.5,1271.2 249.8,1265.8 249.5,1265.3 249.9,1261.6 252.2,1262.3 255.7,1261.9 255.3,1259.5 255.7,1257.2 256.3,1256.4 256.8,1257.1 257.2,1261.1 257.0,1261.1 259.7,1262.8 261.9,1262.6 264.2,1262.4 266.3,1264.2 267.8,1264.1 270.3,1264.3 270.4,1262.6 272.4,1261.0 273.7,1256.9 274.2,1254.6 275.1,1255.4 275.0,1255.7 275.2,1257.5 275.7,1259.4 277.2,1264.3 278.5,1263.9 280.9,1263.3 282.6,1263.9 284.8,1262.6 286.6,1264.0 289.0,1262.7 291.0,1265.1 293.4,1264.4 294.4,1263.7 296.9,1261.5 299.7,1261.9 302.4,1262.5 303.7,1262.8 306.0,1262.2 307.7,1262.0 309.8,1263.0 312.0,1262.1 314.0,1262.3 316.3,1263.1 318.4,1262.1 320.4,1264.1 322.7,1263.3 323.4,1263.8 326.5,1261.0 327.8,1262.1 330.3,1263.1 331.7,1261.7 333.5,1261.5 336.4,1264.4 337.6,1263.8 340.6,1262.0 342.1,1262.7 344.6,1264.1 345.3,1261.8 348.5,1263.0 350.0,1263.7 352.4,1264.1 353.8,1261.0 356.3,1260.9 358.1,1263.6 359.9,1262.7 361.6,1261.1 364.1,1263.4 366.7,1260.5 368.6,1262.1 369.8,1261.7 372.1,1261.5 373.5,1263.3 376.3,1262.4 378.3,1263.7 379.6,1263.2 382.4,1261.6 384.1,1262.0 385.6,1261.9 387.5,1263.6 389.6,1262.7 392.1,1263.8 394.4,1261.8 395.8,1260.7 397.4,1261.6 400.6,1260.8 401.6,1262.8 403.8,1261.3 406.6,1260.8 408.1,1262.1 409.8,1261.4 411.5,1262.1 414.3,1262.3 416.4,1263.7 417.6,1263.8 420.1,1262.2 422.1,1263.8 424.1,1261.0 426.9,1261.1 427.9,1263.1 430.2,1261.5 432.8,1263.5 434.5,1263.5 437.0,1262.5 438.9,1260.4 440.5,1262.6 441.5,1258.6 441.6,1257.9 441.7,1255.7 441.4,1253.5 442.6,1250.9 442.8,1254.1 442.0,1257.1 442.2,1259.1 443.0,1261.4 443.8,1261.5 445.7,1263.6 447.1,1260.9 449.3,1262.9 451.3,1260.9 453.8,1262.0 455.6,1261.8 457.1,1259.9 459.2,1260.0 462.2,1263.1 463.4,1261.0 465.3,1261.1 468.2,1261.7 470.5,1261.4 471.4,1260.8 473.9,1260.7 475.4,1261.7 478.0,1262.0 479.8,1259.8 481.7,1260.2 483.9,1260.1 485.4,1261.4 487.5,1260.0 489.5,1262.0 492.4,1262.4 494.1,1261.8 496.3,1261.1 498.0,1262.1 500.1,1261.7 502.1,1261.5 503.7,1261.0 506.2,1261.2 508.3,1261.1 510.2,1260.5 511.8,1262.3 513.7,1261.8 515.5,1261.7 518.0,1262.4 520.3,1262.2 521.8,1262.2 523.7,1262.0 524.2,1264.0 524.4,1265.5 525.0,1268.7 525.4,1271.5 525.7,1271.7 526.1,1274.2 526.8,1275.9 526.6,1279.3 527.5,1281.1 527.2,1279.6 527.9,1277.8 528.2,1273.8 528.8,1273.6 528.6,1270.8 529.3,1269.3 529.5,1265.2 529.3,1263.8 530.0,1261.5 532.3,1262.6 534.1,1262.5 536.0,1263.1 538.1,1261.2 540.3,1262.9 542.6,1262.4 544.9,1261.7 547.2,1263.2 548.9,1262.6 551.2,1262.2 552.6,1262.4 553.2,1265.0 553.2,1265.1 553.4,1267.5 553.8,1269.7 554.0,1272.8 554.0,1274.6 554.4,1275.6 554.9,1278.9 555.3,1281.9 554.9,1279.4 555.6,1277.7 555.6,1275.5 556.3,1271.6 556.6,1271.3 556.6,1268.0 556.9,1265.0 558.0,1264.2 558.1,1263.0 559.6,1262.9 562.2,1262.6 564.3,1261.4 565.5,1262.7 568.1,1261.9 570.2,1260.8 572.2,1261.1 573.7,1261.1 576.0,1260.6 578.2,1262.0 580.1,1259.9 582.0,1261.3 584.3,1260.4 585.7,1260.5 587.7,1261.5 589.5,1260.9 592.3,1259.6 593.7,1261.8 595.8,1261.2 597.5,1260.5 599.6,1259.9 601.5,1260.9 604.0,1260.0 605.9,1260.8 607.8,1259.5 609.6,1260.6 612.2,1259.6 614.0,1261.3 616.0,1260.7 617.9,1260.2 620.3,1260.5 622.1,1259.5 623.6,1259.9 626.2,1259.6 628.2,1259.8 629.6,1260.0 632.0,1259.4 633.7,1260.9 636.1,1260.3 637.6,1260.3 639.7,1259.6 641.9,1259.4 644.3,1258.9 646.4,1260.4 648.0,1260.4 650.0,1260.5 652.0,1260.6 654.2,1259.8 656.5,1259.9 657.8,1259.7 659.7,1259.1 662.2,1258.6 663.9,1258.6 665.9,1258.6 668.2,1260.0 670.0,1259.7 672.2,1259.9 674.3,1259.5 676.2,1259.6 678.0,1259.7 679.7,1259.5 681.6,1261.6 683.1,1265.0 684.8,1262.0 686.4,1259.9 687.8,1259.8 690.4,1259.1 692.4,1258.0 694.3,1258.1 695.9,1258.7 697.9,1258.7 699.6,1257.5 702.2,1258.0 703.8,1259.0 706.2,1258.5 708.3,1258.0 710.4,1258.6 712.3,1259.0 714.2,1259.2 716.2,1258.0 717.6,1257.8 720.1,1256.9 722.1,1257.7 724.0,1256.9 725.6,1258.2 727.8,1257.0 730.4,1256.7 732.2,1258.5 734.4,1258.0 735.6,1257.5 738.4,1257.3 740.0,1258.1 742.1,1257.1 744.1,1257.3 745.8,1256.3 747.8,1258.5 749.8,1256.9 752.5,1256.2 753.8,1256.9 756.0,1256.9 757.8,1256.2 760.1,1256.2 761.5,1257.6 764.3,1256.6 766.4,1256.0 768.4,1257.2 770.2,1255.7 772.3,1255.9 774.0,1256.8 775.6,1256.1 778.4,1257.2 779.8,1257.6 781.6,1256.8 784.3,1257.2 786.1,1256.9 787.8,1257.0 790.2,1256.4 791.8,1256.6 793.6,1256.2 796.2,1255.7 798.1,1255.0 799.8,1256.0 802.3,1256.0 804.4,1255.5 806.4,1256.0 808.0,1254.9 810.3,1256.3 811.9,1255.1 813.8,1255.1 815.6,1256.2 817.9,1254.5 820.2,1254.4 822.4,1253.9 824.1,1255.4 825.8,1254.2 828.4,1255.1 830.2,1254.0 831.5,1255.7 833.7,1253.6 836.3,1254.7 837.5,1254.6 840.0,1255.4 842.1,1253.5 844.1,1255.0 846.4,1253.7 848.1,1253.0 850.4,1253.1 852.1,1254.8 854.0,1255.1 855.9,1254.0 858.3,1252.7 860.3,1254.6 861.7,1254.2 863.8,1253.0 866.0,1254.2 867.9,1253.3 869.7,1253.8 872.1,1254.4 874.3,1252.3 875.7,1252.6 877.8,1254.0 880.0,1254.0 882.3,1253.0 883.5,1252.6 886.1,1253.5 887.7,1253.9 889.5,1252.4 892.0,1253.4 894.4,1252.8 896.3,1253.0 897.8,1254.1 900.0,1253.5 901.8,1253.9 904.0,1251.8 905.6,1252.5 907.9,1251.9 910.3,1252.9 912.4,1253.1 914.3,1251.9 915.6,1252.0 917.9,1251.6 920.4,1252.1 922.3,1251.5 924.3,1252.1 926.0,1252.7 928.1,1252.0 929.8,1252.1 932.1,1251.2 933.7,1251.3 936.3,1252.8 938.3,1252.6 939.6,1251.8 942.4,1252.1 943.8,1251.3 946.4,1251.1 947.9,1251.6 950.1,1253.0 952.2,1253.1 953.8,1252.5 956.2,1250.8 958.1,1252.7 959.5,1251.1 962.0,1252.0 964.0,1252.6 965.9,1252.1 968.0,1252.4 969.9,1252.6" fill="none" stroke="#FF0000" stroke-width="5.0" stroke-linejoin="round" stroke-linecap="round" clip-path="url(#clip)"/>
<text x="371.0" y="864.0" text-anchor="end" font-size="36.5" font-family="Liberation Sans, sans-serif" stroke="#000" stroke-width="0.45">Li/M:</text>
<line x1="263.5" y1="898.5" x2="300.5" y2="898.5" stroke="#000" stroke-width="4"/>
<text x="300.5" y="908.8" font-size="36.5" fill="#000" stroke="#000" stroke-width="0.45" font-family="Liberation Sans, sans-serif">1.01</text>
<line x1="263.5" y1="942.1" x2="300.5" y2="942.1" stroke="#0070C0" stroke-width="4"/>
<text x="300.5" y="952.4" font-size="36.5" fill="#0070C0" stroke="#0070C0" stroke-width="0.45" font-family="Liberation Sans, sans-serif">1.03</text>
<line x1="263.5" y1="985.7" x2="300.5" y2="985.7" stroke="#FF0000" stroke-width="4"/>
<text x="300.5" y="996.0" font-size="36.5" fill="#FF0000" stroke="#FF0000" stroke-width="0.45" font-family="Liberation Sans, sans-serif">1.05</text>
<line x1="263.5" y1="1029.3" x2="300.5" y2="1029.3" stroke="#00B050" stroke-width="4"/>
<text x="300.5" y="1039.6" font-size="36.5" fill="#00B050" stroke="#00B050" stroke-width="0.45" font-family="Liberation Sans, sans-serif">1.08</text>
<line x1="263.5" y1="1072.9" x2="300.5" y2="1072.9" stroke="#7030A0" stroke-width="4"/>
<text x="300.5" y="1083.2" font-size="36.5" fill="#7030A0" stroke="#7030A0" stroke-width="0.45" font-family="Liberation Sans, sans-serif">1.14</text>
</svg></body></html>
